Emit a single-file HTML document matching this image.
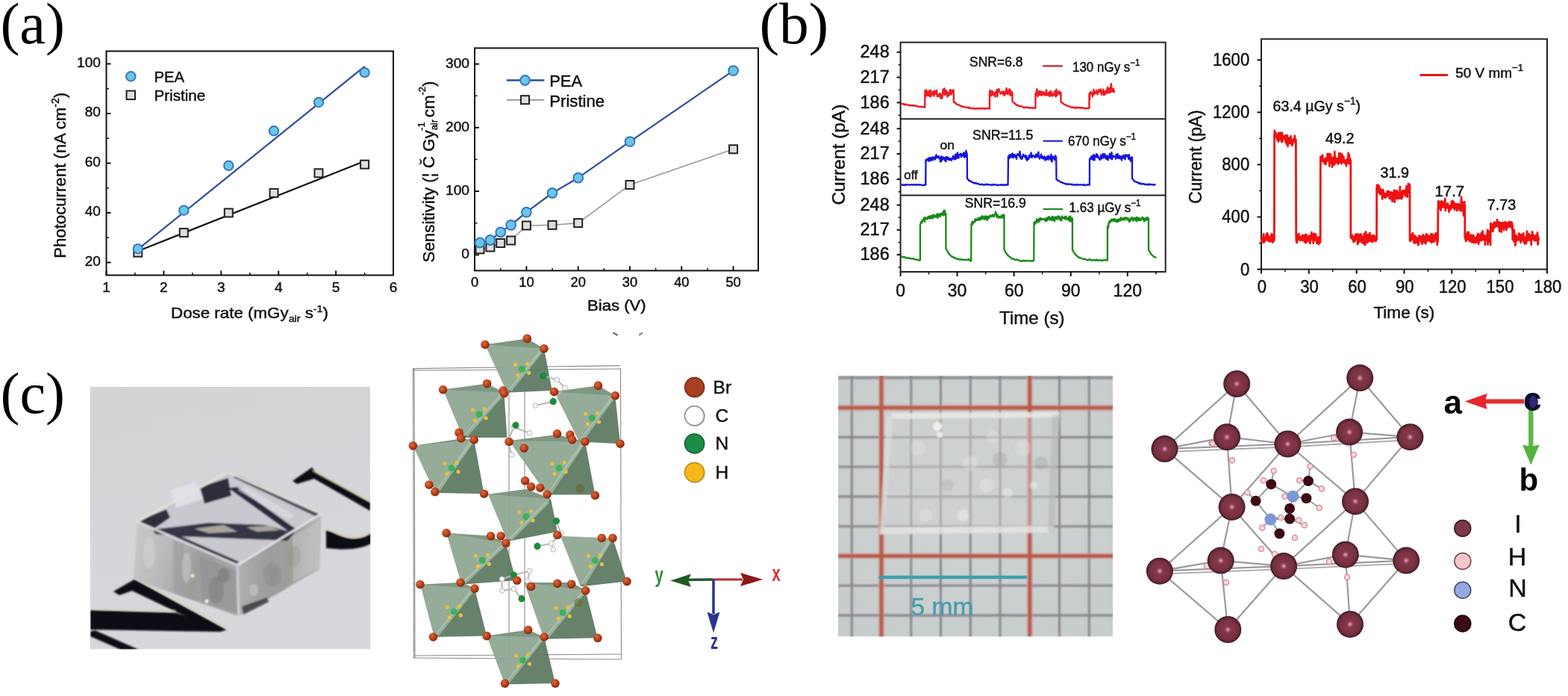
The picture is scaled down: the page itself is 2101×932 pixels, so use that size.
<!DOCTYPE html>
<html><head><meta charset="utf-8"><title>Figure</title>
<style>html,body{margin:0;padding:0;background:#fff;} body{width:2101px;height:932px;overflow:hidden;} svg{display:block;}</style>
</head><body>
<svg width="2101" height="932" viewBox="0 0 2101 932">
<rect width="2101" height="932" fill="#fff"/>
<text x="0.4" y="57.9" font-size="78" font-family="'Liberation Serif', 'Times New Roman', serif" font-weight="normal" fill="#000" text-anchor="start">(a)</text>
<text transform="translate(1017.6,57.9) scale(1.02,1)" font-size="78" font-family="'Liberation Serif', 'Times New Roman', serif" fill="#000">(b)</text>
<text x="0.5" y="553.3" font-size="78" font-family="'Liberation Serif', 'Times New Roman', serif" font-weight="normal" fill="#000" text-anchor="start">(c)</text>
<rect x="142.5" y="68.5" width="384.5" height="300.0" fill="none" stroke="#111" stroke-width="2"/>
<line x1="142.5" y1="351.5" x2="148.5" y2="351.5" stroke="#111" stroke-width="2"/>
<text x="134.8" y="355.8" font-size="19" font-family="'Liberation Sans', Arial, sans-serif" font-weight="normal" fill="#111" text-anchor="end" stroke="#111" stroke-width="0.45">20</text>
<line x1="142.5" y1="285.0" x2="148.5" y2="285.0" stroke="#111" stroke-width="2"/>
<text x="134.8" y="289.3" font-size="19" font-family="'Liberation Sans', Arial, sans-serif" font-weight="normal" fill="#111" text-anchor="end" stroke="#111" stroke-width="0.45">40</text>
<line x1="142.5" y1="218.5" x2="148.5" y2="218.5" stroke="#111" stroke-width="2"/>
<text x="134.8" y="222.8" font-size="19" font-family="'Liberation Sans', Arial, sans-serif" font-weight="normal" fill="#111" text-anchor="end" stroke="#111" stroke-width="0.45">60</text>
<line x1="142.5" y1="152.0" x2="148.5" y2="152.0" stroke="#111" stroke-width="2"/>
<text x="134.8" y="156.3" font-size="19" font-family="'Liberation Sans', Arial, sans-serif" font-weight="normal" fill="#111" text-anchor="end" stroke="#111" stroke-width="0.45">80</text>
<line x1="142.5" y1="85.5" x2="148.5" y2="85.5" stroke="#111" stroke-width="2"/>
<text x="134.8" y="89.8" font-size="19" font-family="'Liberation Sans', Arial, sans-serif" font-weight="normal" fill="#111" text-anchor="end" stroke="#111" stroke-width="0.45">100</text>
<line x1="142.5" y1="318.2" x2="146.0" y2="318.2" stroke="#111" stroke-width="1.5"/>
<line x1="142.5" y1="251.8" x2="146.0" y2="251.8" stroke="#111" stroke-width="1.5"/>
<line x1="142.5" y1="185.2" x2="146.0" y2="185.2" stroke="#111" stroke-width="1.5"/>
<line x1="142.5" y1="118.8" x2="146.0" y2="118.8" stroke="#111" stroke-width="1.5"/>
<line x1="142.5" y1="368.5" x2="142.5" y2="362.5" stroke="#111" stroke-width="2"/>
<text x="142.5" y="390.5" font-size="19" font-family="'Liberation Sans', Arial, sans-serif" font-weight="normal" fill="#111" text-anchor="middle" stroke="#111" stroke-width="0.45">1</text>
<line x1="219.4" y1="368.5" x2="219.4" y2="362.5" stroke="#111" stroke-width="2"/>
<text x="219.4" y="390.5" font-size="19" font-family="'Liberation Sans', Arial, sans-serif" font-weight="normal" fill="#111" text-anchor="middle" stroke="#111" stroke-width="0.45">2</text>
<line x1="296.3" y1="368.5" x2="296.3" y2="362.5" stroke="#111" stroke-width="2"/>
<text x="296.3" y="390.5" font-size="19" font-family="'Liberation Sans', Arial, sans-serif" font-weight="normal" fill="#111" text-anchor="middle" stroke="#111" stroke-width="0.45">3</text>
<line x1="373.2" y1="368.5" x2="373.2" y2="362.5" stroke="#111" stroke-width="2"/>
<text x="373.2" y="390.5" font-size="19" font-family="'Liberation Sans', Arial, sans-serif" font-weight="normal" fill="#111" text-anchor="middle" stroke="#111" stroke-width="0.45">4</text>
<line x1="450.1" y1="368.5" x2="450.1" y2="362.5" stroke="#111" stroke-width="2"/>
<text x="450.1" y="390.5" font-size="19" font-family="'Liberation Sans', Arial, sans-serif" font-weight="normal" fill="#111" text-anchor="middle" stroke="#111" stroke-width="0.45">5</text>
<line x1="527.0" y1="368.5" x2="527.0" y2="362.5" stroke="#111" stroke-width="2"/>
<text x="527.0" y="390.5" font-size="19" font-family="'Liberation Sans', Arial, sans-serif" font-weight="normal" fill="#111" text-anchor="middle" stroke="#111" stroke-width="0.45">6</text>
<line x1="180.9" y1="368.5" x2="180.9" y2="365.0" stroke="#111" stroke-width="1.5"/>
<line x1="257.9" y1="368.5" x2="257.9" y2="365.0" stroke="#111" stroke-width="1.5"/>
<line x1="334.8" y1="368.5" x2="334.8" y2="365.0" stroke="#111" stroke-width="1.5"/>
<line x1="411.7" y1="368.5" x2="411.7" y2="365.0" stroke="#111" stroke-width="1.5"/>
<line x1="488.6" y1="368.5" x2="488.6" y2="365.0" stroke="#111" stroke-width="1.5"/>
<line x1="184.8" y1="333.9" x2="488.6" y2="88.8" stroke="#2f4d9c" stroke-width="2.2"/>
<line x1="184.8" y1="336.2" x2="488.6" y2="215.8" stroke="#111" stroke-width="2.2"/>
<rect x="179.3" y="332.7" width="11" height="11" fill="#dedede" stroke="#222" stroke-width="2"/>
<rect x="240.8" y="306.1" width="11" height="11" fill="#dedede" stroke="#222" stroke-width="2"/>
<rect x="300.8" y="279.5" width="11" height="11" fill="#dedede" stroke="#222" stroke-width="2"/>
<rect x="361.5" y="252.9" width="11" height="11" fill="#dedede" stroke="#222" stroke-width="2"/>
<rect x="421.5" y="226.3" width="11" height="11" fill="#dedede" stroke="#222" stroke-width="2"/>
<rect x="483.1" y="214.7" width="11" height="11" fill="#dedede" stroke="#222" stroke-width="2"/>
<circle cx="184.8" cy="333.2" r="6.2" fill="#68c6ee" stroke="#3a78b5" stroke-width="2"/>
<circle cx="246.3" cy="281.7" r="6.2" fill="#68c6ee" stroke="#3a78b5" stroke-width="2"/>
<circle cx="306.3" cy="221.8" r="6.2" fill="#68c6ee" stroke="#3a78b5" stroke-width="2"/>
<circle cx="367.0" cy="175.3" r="6.2" fill="#68c6ee" stroke="#3a78b5" stroke-width="2"/>
<circle cx="427.0" cy="137.0" r="6.2" fill="#68c6ee" stroke="#3a78b5" stroke-width="2"/>
<circle cx="488.6" cy="97.1" r="6.2" fill="#68c6ee" stroke="#3a78b5" stroke-width="2"/>
<circle cx="175.3" cy="102.3" r="6.3" fill="#68c6ee" stroke="#3a78b5" stroke-width="2"/>
<rect x="169.5" y="121.6" width="11.5" height="11.5" fill="#dedede" stroke="#222" stroke-width="2"/>
<text x="206.5" y="109.8" font-size="20.3" font-family="'Liberation Sans', Arial, sans-serif" font-weight="normal" fill="#111" text-anchor="start" textLength="40.6" lengthAdjust="spacingAndGlyphs" stroke="#111" stroke-width="0.45">PEA</text>
<text x="206.5" y="135.2" font-size="20.5" font-family="'Liberation Sans', Arial, sans-serif" font-weight="normal" fill="#111" text-anchor="start" textLength="68.6" lengthAdjust="spacingAndGlyphs" stroke="#111" stroke-width="0.45">Pristine</text>
<text x="229" y="426" font-size="20.4" font-family="'Liberation Sans', Arial, sans-serif" fill="#111" textLength="211" lengthAdjust="spacingAndGlyphs" stroke="#111" stroke-width="0.45">Dose rate (mGy<tspan font-size="13" dy="5">air</tspan><tspan dy="-5"> s</tspan><tspan font-size="13" dy="-8">-1</tspan><tspan dy="8">)</tspan></text>
<text transform="translate(88,345.8) rotate(-90)" font-size="22" font-family="'Liberation Sans', Arial, sans-serif" fill="#111" textLength="222" lengthAdjust="spacingAndGlyphs" stroke="#111" stroke-width="0.45">Photocurrent (nA cm<tspan font-size="14" dy="-9">-2</tspan><tspan dy="9">)</tspan></text>
<rect x="636" y="64.4" width="380" height="298.0" fill="none" stroke="#111" stroke-width="2"/>
<line x1="636.0" y1="341.3" x2="642.0" y2="341.3" stroke="#111" stroke-width="2"/>
<text x="629.0" y="346.3" font-size="19.2" font-family="'Liberation Sans', Arial, sans-serif" font-weight="normal" fill="#111" text-anchor="end" stroke="#111" stroke-width="0.45">0</text>
<line x1="636.0" y1="256.1" x2="642.0" y2="256.1" stroke="#111" stroke-width="2"/>
<text x="629.0" y="261.1" font-size="19.2" font-family="'Liberation Sans', Arial, sans-serif" font-weight="normal" fill="#111" text-anchor="end" stroke="#111" stroke-width="0.45">100</text>
<line x1="636.0" y1="170.9" x2="642.0" y2="170.9" stroke="#111" stroke-width="2"/>
<text x="629.0" y="175.9" font-size="19.2" font-family="'Liberation Sans', Arial, sans-serif" font-weight="normal" fill="#111" text-anchor="end" stroke="#111" stroke-width="0.45">200</text>
<line x1="636.0" y1="85.7" x2="642.0" y2="85.7" stroke="#111" stroke-width="2"/>
<text x="629.0" y="90.7" font-size="19.2" font-family="'Liberation Sans', Arial, sans-serif" font-weight="normal" fill="#111" text-anchor="end" stroke="#111" stroke-width="0.45">300</text>
<line x1="636.0" y1="298.7" x2="639.5" y2="298.7" stroke="#111" stroke-width="1.5"/>
<line x1="636.0" y1="213.5" x2="639.5" y2="213.5" stroke="#111" stroke-width="1.5"/>
<line x1="636.0" y1="128.3" x2="639.5" y2="128.3" stroke="#111" stroke-width="1.5"/>
<line x1="636.1" y1="362.4" x2="636.1" y2="356.4" stroke="#111" stroke-width="2"/>
<text x="636.1" y="383.5" font-size="18.3" font-family="'Liberation Sans', Arial, sans-serif" font-weight="normal" fill="#111" text-anchor="middle" stroke="#111" stroke-width="0.45">0</text>
<line x1="705.4" y1="362.4" x2="705.4" y2="356.4" stroke="#111" stroke-width="2"/>
<text x="705.4" y="383.5" font-size="18.3" font-family="'Liberation Sans', Arial, sans-serif" font-weight="normal" fill="#111" text-anchor="middle" stroke="#111" stroke-width="0.45">10</text>
<line x1="774.7" y1="362.4" x2="774.7" y2="356.4" stroke="#111" stroke-width="2"/>
<text x="774.7" y="383.5" font-size="18.3" font-family="'Liberation Sans', Arial, sans-serif" font-weight="normal" fill="#111" text-anchor="middle" stroke="#111" stroke-width="0.45">20</text>
<line x1="844.0" y1="362.4" x2="844.0" y2="356.4" stroke="#111" stroke-width="2"/>
<text x="844.0" y="383.5" font-size="18.3" font-family="'Liberation Sans', Arial, sans-serif" font-weight="normal" fill="#111" text-anchor="middle" stroke="#111" stroke-width="0.45">30</text>
<line x1="913.3" y1="362.4" x2="913.3" y2="356.4" stroke="#111" stroke-width="2"/>
<text x="913.3" y="383.5" font-size="18.3" font-family="'Liberation Sans', Arial, sans-serif" font-weight="normal" fill="#111" text-anchor="middle" stroke="#111" stroke-width="0.45">40</text>
<line x1="982.6" y1="362.4" x2="982.6" y2="356.4" stroke="#111" stroke-width="2"/>
<text x="982.6" y="383.5" font-size="18.3" font-family="'Liberation Sans', Arial, sans-serif" font-weight="normal" fill="#111" text-anchor="middle" stroke="#111" stroke-width="0.45">50</text>
<line x1="670.8" y1="362.4" x2="670.8" y2="358.9" stroke="#111" stroke-width="1.5"/>
<line x1="740.0" y1="362.4" x2="740.0" y2="358.9" stroke="#111" stroke-width="1.5"/>
<line x1="809.4" y1="362.4" x2="809.4" y2="358.9" stroke="#111" stroke-width="1.5"/>
<line x1="878.6" y1="362.4" x2="878.6" y2="358.9" stroke="#111" stroke-width="1.5"/>
<line x1="948.0" y1="362.4" x2="948.0" y2="358.9" stroke="#111" stroke-width="1.5"/>
<polyline points="643.0,333.8 656.9,331.0 670.8,325.5 684.6,322.0 705.4,302.0 740.0,301.4 774.7,298.6 844.0,247.5 982.6,199.8" fill="none" stroke="#9a9a9a" stroke-width="1.6" stroke-linejoin="round"/>
<polyline points="643.0,325.0 656.9,321.5 670.8,310.9 684.6,301.4 705.4,284.2 740.0,258.5 774.7,238.2 844.0,189.6 982.6,94.6" fill="none" stroke="#2f4d9c" stroke-width="2.2" stroke-linejoin="round"/>
<rect x="637.5" y="328.3" width="11" height="11" fill="#dedede" stroke="#222" stroke-width="2"/>
<rect x="651.4" y="325.5" width="11" height="11" fill="#dedede" stroke="#222" stroke-width="2"/>
<rect x="665.2" y="320.0" width="11" height="11" fill="#dedede" stroke="#222" stroke-width="2"/>
<rect x="679.1" y="316.5" width="11" height="11" fill="#dedede" stroke="#222" stroke-width="2"/>
<rect x="699.9" y="296.5" width="11" height="11" fill="#dedede" stroke="#222" stroke-width="2"/>
<rect x="734.5" y="295.9" width="11" height="11" fill="#dedede" stroke="#222" stroke-width="2"/>
<rect x="769.2" y="293.1" width="11" height="11" fill="#dedede" stroke="#222" stroke-width="2"/>
<rect x="838.5" y="242.0" width="11" height="11" fill="#dedede" stroke="#222" stroke-width="2"/>
<rect x="977.1" y="194.3" width="11" height="11" fill="#dedede" stroke="#222" stroke-width="2"/>
<circle cx="643.0" cy="325.0" r="6.4" fill="#68c6ee" stroke="#3a78b5" stroke-width="2"/>
<circle cx="656.9" cy="321.5" r="6.4" fill="#68c6ee" stroke="#3a78b5" stroke-width="2"/>
<circle cx="670.8" cy="310.9" r="6.4" fill="#68c6ee" stroke="#3a78b5" stroke-width="2"/>
<circle cx="684.6" cy="301.4" r="6.4" fill="#68c6ee" stroke="#3a78b5" stroke-width="2"/>
<circle cx="705.4" cy="284.2" r="6.4" fill="#68c6ee" stroke="#3a78b5" stroke-width="2"/>
<circle cx="740.0" cy="258.5" r="6.4" fill="#68c6ee" stroke="#3a78b5" stroke-width="2"/>
<circle cx="774.7" cy="238.2" r="6.4" fill="#68c6ee" stroke="#3a78b5" stroke-width="2"/>
<circle cx="844.0" cy="189.6" r="6.4" fill="#68c6ee" stroke="#3a78b5" stroke-width="2"/>
<circle cx="982.6" cy="94.6" r="6.4" fill="#68c6ee" stroke="#3a78b5" stroke-width="2"/>
<line x1="678.8" y1="107.5" x2="729.4" y2="107.5" stroke="#2f4d9c" stroke-width="2.4"/>
<circle cx="703.5" cy="107.5" r="6.4" fill="#68c6ee" stroke="#3a78b5" stroke-width="2"/>
<line x1="678.8" y1="133.8" x2="729.4" y2="133.8" stroke="#9a9a9a" stroke-width="2"/>
<rect x="698" y="128.2" width="11" height="11" fill="#dedede" stroke="#222" stroke-width="2"/>
<text x="736.2" y="115.5" font-size="22" font-family="'Liberation Sans', Arial, sans-serif" font-weight="normal" fill="#111" text-anchor="start" textLength="44.0" lengthAdjust="spacingAndGlyphs" stroke="#111" stroke-width="0.45">PEA</text>
<text x="736.2" y="142.6" font-size="21.8" font-family="'Liberation Sans', Arial, sans-serif" font-weight="normal" fill="#111" text-anchor="start" textLength="74.0" lengthAdjust="spacingAndGlyphs" stroke="#111" stroke-width="0.45">Pristine</text>
<text x="787" y="416.3" font-size="19.5" font-family="'Liberation Sans', Arial, sans-serif" fill="#111" textLength="78.6" lengthAdjust="spacingAndGlyphs" stroke="#111" stroke-width="0.45">Bias (V)</text>
<text transform="translate(581.8,351.5) rotate(-90)" font-size="22.5" font-family="'Liberation Sans', Arial, sans-serif" fill="#111" textLength="243" lengthAdjust="spacingAndGlyphs" stroke="#111" stroke-width="0.45">Sensitivity (¦ Č Gy<tspan font-size="13" dy="4">air</tspan><tspan font-size="13" dx="-15" dy="-17">-1</tspan><tspan dy="13"> cm</tspan><tspan font-size="13" dy="-12">-2</tspan><tspan dy="12">)</tspan></text>
<rect x="1206.6" y="56.7" width="355.10000000000014" height="307.3" fill="none" stroke="#222" stroke-width="2"/>
<line x1="1206.6" y1="159.2" x2="1561.7" y2="159.2" stroke="#222" stroke-width="2"/>
<line x1="1206.6" y1="261.5" x2="1561.7" y2="261.5" stroke="#222" stroke-width="2"/>
<line x1="1201.6" y1="69.8" x2="1206.6" y2="69.8" stroke="#111" stroke-width="2"/>
<text x="1191.8" y="77.0" font-size="23.6" font-family="'Liberation Sans', Arial, sans-serif" font-weight="normal" fill="#111" text-anchor="end" textLength="39.3" lengthAdjust="spacingAndGlyphs" stroke="#111" stroke-width="0.45">248</text>
<line x1="1201.6" y1="103.6" x2="1206.6" y2="103.6" stroke="#111" stroke-width="2"/>
<text x="1191.8" y="110.8" font-size="23.6" font-family="'Liberation Sans', Arial, sans-serif" font-weight="normal" fill="#111" text-anchor="end" textLength="39.3" lengthAdjust="spacingAndGlyphs" stroke="#111" stroke-width="0.45">217</text>
<line x1="1201.6" y1="137.4" x2="1206.6" y2="137.4" stroke="#111" stroke-width="2"/>
<text x="1191.8" y="144.6" font-size="23.6" font-family="'Liberation Sans', Arial, sans-serif" font-weight="normal" fill="#111" text-anchor="end" textLength="39.3" lengthAdjust="spacingAndGlyphs" stroke="#111" stroke-width="0.45">186</text>
<line x1="1203.6" y1="86.7" x2="1206.6" y2="86.7" stroke="#111" stroke-width="1.5"/>
<line x1="1203.6" y1="120.5" x2="1206.6" y2="120.5" stroke="#111" stroke-width="1.5"/>
<line x1="1203.6" y1="154.3" x2="1206.6" y2="154.3" stroke="#111" stroke-width="1.5"/>
<line x1="1201.6" y1="172.3" x2="1206.6" y2="172.3" stroke="#111" stroke-width="2"/>
<text x="1191.8" y="179.5" font-size="23.6" font-family="'Liberation Sans', Arial, sans-serif" font-weight="normal" fill="#111" text-anchor="end" textLength="39.3" lengthAdjust="spacingAndGlyphs" stroke="#111" stroke-width="0.45">248</text>
<line x1="1201.6" y1="206.1" x2="1206.6" y2="206.1" stroke="#111" stroke-width="2"/>
<text x="1191.8" y="213.3" font-size="23.6" font-family="'Liberation Sans', Arial, sans-serif" font-weight="normal" fill="#111" text-anchor="end" textLength="39.3" lengthAdjust="spacingAndGlyphs" stroke="#111" stroke-width="0.45">217</text>
<line x1="1201.6" y1="239.9" x2="1206.6" y2="239.9" stroke="#111" stroke-width="2"/>
<text x="1191.8" y="247.1" font-size="23.6" font-family="'Liberation Sans', Arial, sans-serif" font-weight="normal" fill="#111" text-anchor="end" textLength="39.3" lengthAdjust="spacingAndGlyphs" stroke="#111" stroke-width="0.45">186</text>
<line x1="1203.6" y1="189.2" x2="1206.6" y2="189.2" stroke="#111" stroke-width="1.5"/>
<line x1="1203.6" y1="223.0" x2="1206.6" y2="223.0" stroke="#111" stroke-width="1.5"/>
<line x1="1203.6" y1="256.8" x2="1206.6" y2="256.8" stroke="#111" stroke-width="1.5"/>
<line x1="1201.6" y1="274.6" x2="1206.6" y2="274.6" stroke="#111" stroke-width="2"/>
<text x="1191.8" y="281.8" font-size="23.6" font-family="'Liberation Sans', Arial, sans-serif" font-weight="normal" fill="#111" text-anchor="end" textLength="39.3" lengthAdjust="spacingAndGlyphs" stroke="#111" stroke-width="0.45">248</text>
<line x1="1201.6" y1="307.9" x2="1206.6" y2="307.9" stroke="#111" stroke-width="2"/>
<text x="1191.8" y="315.1" font-size="23.6" font-family="'Liberation Sans', Arial, sans-serif" font-weight="normal" fill="#111" text-anchor="end" textLength="39.3" lengthAdjust="spacingAndGlyphs" stroke="#111" stroke-width="0.45">217</text>
<line x1="1201.6" y1="341.1" x2="1206.6" y2="341.1" stroke="#111" stroke-width="2"/>
<text x="1191.8" y="348.3" font-size="23.6" font-family="'Liberation Sans', Arial, sans-serif" font-weight="normal" fill="#111" text-anchor="end" textLength="39.3" lengthAdjust="spacingAndGlyphs" stroke="#111" stroke-width="0.45">186</text>
<line x1="1203.6" y1="291.2" x2="1206.6" y2="291.2" stroke="#111" stroke-width="1.5"/>
<line x1="1203.6" y1="324.5" x2="1206.6" y2="324.5" stroke="#111" stroke-width="1.5"/>
<line x1="1203.6" y1="357.8" x2="1206.6" y2="357.8" stroke="#111" stroke-width="1.5"/>
<line x1="1206.6" y1="364.0" x2="1206.6" y2="370.0" stroke="#111" stroke-width="2"/>
<line x1="1282.6" y1="364.0" x2="1282.6" y2="370.0" stroke="#111" stroke-width="2"/>
<line x1="1358.7" y1="364.0" x2="1358.7" y2="370.0" stroke="#111" stroke-width="2"/>
<line x1="1434.8" y1="364.0" x2="1434.8" y2="370.0" stroke="#111" stroke-width="2"/>
<line x1="1510.8" y1="364.0" x2="1510.8" y2="370.0" stroke="#111" stroke-width="2"/>
<line x1="1244.6" y1="364.0" x2="1244.6" y2="367.5" stroke="#111" stroke-width="1.5"/>
<line x1="1320.7" y1="364.0" x2="1320.7" y2="367.5" stroke="#111" stroke-width="1.5"/>
<line x1="1396.7" y1="364.0" x2="1396.7" y2="367.5" stroke="#111" stroke-width="1.5"/>
<line x1="1472.8" y1="364.0" x2="1472.8" y2="367.5" stroke="#111" stroke-width="1.5"/>
<line x1="1548.8" y1="364.0" x2="1548.8" y2="367.5" stroke="#111" stroke-width="1.5"/>
<text x="1206.6" y="396.9" font-size="23" font-family="'Liberation Sans', Arial, sans-serif" font-weight="normal" fill="#111" text-anchor="middle" stroke="#111" stroke-width="0.45">0</text>
<text x="1282.6" y="396.9" font-size="23" font-family="'Liberation Sans', Arial, sans-serif" font-weight="normal" fill="#111" text-anchor="middle" stroke="#111" stroke-width="0.45">30</text>
<text x="1358.7" y="396.9" font-size="23" font-family="'Liberation Sans', Arial, sans-serif" font-weight="normal" fill="#111" text-anchor="middle" stroke="#111" stroke-width="0.45">60</text>
<text x="1434.8" y="396.9" font-size="23" font-family="'Liberation Sans', Arial, sans-serif" font-weight="normal" fill="#111" text-anchor="middle" stroke="#111" stroke-width="0.45">90</text>
<text x="1510.8" y="396.9" font-size="23" font-family="'Liberation Sans', Arial, sans-serif" font-weight="normal" fill="#111" text-anchor="middle" stroke="#111" stroke-width="0.45">120</text>
<polyline points="1207.5,139.3 1208.0,138.8 1208.5,138.9 1209.0,139.2 1209.5,139.2 1210.0,139.1 1210.5,139.0 1211.0,139.2 1211.5,139.8 1212.0,140.5 1212.5,140.3 1213.0,139.8 1213.5,139.8 1214.0,139.7 1214.5,139.7 1215.0,140.0 1215.5,140.3 1216.0,140.5 1216.5,140.6 1217.0,140.6 1217.5,140.7 1218.0,141.1 1218.5,141.0 1219.0,140.7 1219.5,140.8 1220.0,141.3 1220.5,141.5 1221.0,141.2 1221.5,141.2 1222.0,141.4 1222.5,141.2 1223.0,141.3 1223.5,141.7 1224.0,141.8 1224.5,141.8 1225.0,141.5 1225.5,141.3 1226.0,141.6 1226.5,141.6 1227.0,141.5 1227.5,142.0 1228.0,142.3 1228.5,142.1 1229.0,142.0 1229.5,142.2 1230.0,142.6 1230.5,143.0 1231.0,143.0 1231.5,143.0 1232.0,143.0 1232.5,142.8 1233.0,142.7 1233.5,143.1 1234.0,143.2 1234.5,143.0 1235.0,143.0 1235.5,142.9 1236.0,142.8 1236.5,143.3 1237.0,143.5 1237.5,143.2 1238.0,143.3 1238.5,143.6 1239.0,143.6 1239.2,143.8 1239.5,121.3 1240.0,124.3 1240.5,128.0 1241.0,128.6 1241.5,120.8 1242.0,124.0 1242.5,125.6 1243.0,123.4 1243.5,128.0 1244.0,124.6 1244.5,124.7 1245.0,121.4 1245.5,127.1 1246.0,129.3 1246.5,124.1 1247.0,120.9 1247.5,129.0 1248.0,126.6 1248.5,126.3 1249.0,126.9 1249.5,124.8 1250.0,122.6 1250.5,122.4 1251.0,123.1 1251.5,128.7 1252.0,121.7 1252.5,123.9 1253.0,124.4 1253.5,125.4 1254.0,125.9 1254.5,121.4 1255.0,121.0 1255.5,125.5 1256.0,129.4 1256.5,128.4 1257.0,127.6 1257.5,126.8 1258.0,128.5 1258.5,126.6 1259.0,128.9 1259.5,124.8 1260.0,126.8 1260.5,131.5 1261.0,128.0 1261.5,127.1 1262.0,132.0 1262.5,128.9 1263.0,128.8 1263.5,119.8 1264.0,123.9 1264.5,123.0 1265.0,125.8 1265.5,118.5 1266.0,126.9 1266.5,126.8 1267.0,120.9 1267.5,121.7 1268.0,121.8 1268.5,123.9 1269.0,125.9 1269.5,129.7 1270.0,123.7 1270.5,125.7 1271.0,124.1 1271.5,127.9 1272.0,125.4 1272.5,125.8 1273.0,120.2 1273.5,122.5 1274.0,120.7 1274.5,126.4 1275.0,124.8 1275.5,121.8 1276.0,121.2 1276.5,123.6 1277.0,120.6 1277.5,120.5 1277.7,123.6 1278.0,136.4 1278.5,137.2 1279.0,137.2 1279.5,137.2 1280.0,137.4 1280.5,137.9 1281.0,138.8 1281.5,139.3 1282.0,139.5 1282.5,139.8 1283.0,140.1 1283.5,140.1 1284.0,140.1 1284.5,140.5 1285.0,140.9 1285.5,140.9 1286.0,141.1 1286.5,141.3 1287.0,141.7 1287.5,142.0 1288.0,142.1 1288.5,142.2 1289.0,142.6 1289.5,143.0 1290.0,142.9 1290.5,142.5 1291.0,142.7 1291.5,142.9 1292.0,143.1 1292.5,143.5 1293.0,143.7 1293.5,143.7 1294.0,143.7 1294.5,143.8 1295.0,143.6 1295.5,143.6 1296.0,143.7 1296.5,143.9 1297.0,144.3 1297.5,144.6 1298.0,144.5 1298.5,144.1 1299.0,143.8 1299.5,144.0 1300.0,145.1 1300.5,145.0 1301.0,145.0 1301.5,145.3 1302.0,145.4 1302.5,145.3 1303.0,145.2 1303.5,145.0 1304.0,144.8 1304.5,144.7 1305.0,144.8 1305.5,145.2 1306.0,145.5 1306.5,145.5 1307.0,145.7 1307.5,145.8 1308.0,145.6 1308.5,145.4 1309.0,145.1 1309.5,145.0 1310.0,145.1 1310.5,145.1 1311.0,145.3 1311.5,145.6 1312.0,145.7 1312.5,145.4 1313.0,145.2 1313.5,145.3 1314.0,145.3 1314.5,145.3 1315.0,145.4 1315.5,145.4 1316.0,145.3 1316.5,145.2 1317.0,145.0 1317.5,144.9 1318.0,145.0 1318.5,145.3 1319.0,145.7 1319.5,145.7 1320.0,145.1 1320.5,145.2 1321.0,145.3 1321.5,145.3 1322.0,145.4 1322.5,145.2 1323.0,144.9 1323.5,145.2 1324.0,145.4 1324.5,145.3 1325.0,145.3 1325.5,145.6 1326.0,145.5 1326.0,125.5 1326.5,120.7 1327.0,121.8 1327.5,123.9 1328.0,122.5 1328.5,128.3 1329.0,124.7 1329.5,122.0 1330.0,122.7 1330.5,123.8 1331.0,127.2 1331.5,124.4 1332.0,125.1 1332.5,125.6 1333.0,124.2 1333.5,129.7 1334.0,123.0 1334.5,126.2 1335.0,124.5 1335.5,125.0 1336.0,119.9 1336.5,129.4 1337.0,121.0 1337.5,121.3 1338.0,119.4 1338.5,119.3 1339.0,122.3 1339.5,123.7 1340.0,123.7 1340.5,125.6 1341.0,124.5 1341.5,123.4 1342.0,124.7 1342.5,124.1 1343.0,122.6 1343.5,125.2 1344.0,126.3 1344.5,124.1 1345.0,122.7 1345.5,125.4 1346.0,128.1 1346.5,123.0 1347.0,123.2 1347.5,122.8 1348.0,125.4 1348.5,118.1 1349.0,123.1 1349.5,125.6 1350.0,120.9 1350.5,126.3 1351.0,123.2 1351.5,121.0 1352.0,123.4 1352.5,119.2 1353.0,121.6 1353.5,127.6 1354.0,120.9 1354.5,127.6 1355.0,123.0 1355.5,126.0 1356.0,123.3 1356.4,123.5 1356.5,135.3 1357.0,136.1 1357.5,136.8 1358.0,137.0 1358.5,137.5 1359.0,138.2 1359.5,138.4 1360.0,138.5 1360.5,139.2 1361.0,139.8 1361.5,140.2 1362.0,140.7 1362.5,141.1 1363.0,140.9 1363.5,140.7 1364.0,140.9 1364.5,141.5 1365.0,142.0 1365.5,142.2 1366.0,142.2 1366.5,142.3 1367.0,142.4 1367.5,142.4 1368.0,142.4 1368.5,142.3 1369.0,142.3 1369.5,142.6 1370.0,142.7 1370.5,143.0 1371.0,143.4 1371.5,143.9 1372.0,144.4 1372.5,144.1 1373.0,143.7 1373.5,143.9 1374.0,143.9 1374.5,143.9 1375.0,144.0 1375.5,143.5 1376.0,143.3 1376.5,143.8 1377.0,144.2 1377.5,144.4 1378.0,144.1 1378.5,144.1 1379.0,144.4 1379.5,144.3 1380.0,144.4 1380.5,144.8 1381.0,144.6 1381.5,144.4 1382.0,144.6 1382.5,144.6 1383.0,144.5 1383.5,144.6 1384.0,145.0 1384.5,145.1 1385.0,144.6 1385.5,144.4 1386.0,144.6 1386.5,144.6 1387.0,144.6 1387.5,144.8 1387.5,125.4 1388.0,127.4 1388.5,123.3 1389.0,124.8 1389.5,119.3 1390.0,123.2 1390.5,129.3 1391.0,124.3 1391.5,124.5 1392.0,123.0 1392.5,127.2 1393.0,121.6 1393.5,121.8 1394.0,126.9 1394.5,126.3 1395.0,126.7 1395.5,123.0 1396.0,128.1 1396.5,125.5 1397.0,124.1 1397.5,123.1 1398.0,123.5 1398.5,126.3 1399.0,126.8 1399.5,124.3 1400.0,126.3 1400.5,127.7 1401.0,126.7 1401.5,125.0 1402.0,120.4 1402.5,126.1 1403.0,127.6 1403.5,126.6 1404.0,127.2 1404.5,124.7 1405.0,124.7 1405.5,123.7 1406.0,128.9 1406.5,125.3 1407.0,124.3 1407.5,122.1 1408.0,125.0 1408.5,128.2 1409.0,125.7 1409.5,123.4 1410.0,128.3 1410.5,128.4 1411.0,126.8 1411.5,126.2 1412.0,127.1 1412.5,125.8 1413.0,126.3 1413.5,122.0 1414.0,128.6 1414.5,124.7 1415.0,129.2 1415.5,119.8 1416.0,126.8 1416.5,127.4 1417.0,123.1 1417.5,124.7 1418.0,125.4 1418.5,125.1 1419.0,122.2 1419.5,122.7 1420.0,125.8 1420.5,126.4 1421.0,123.9 1421.5,124.0 1421.5,136.1 1422.0,136.8 1422.5,137.2 1423.0,137.3 1423.5,137.5 1424.0,138.1 1424.5,138.5 1425.0,138.9 1425.5,139.5 1426.0,139.8 1426.5,140.0 1427.0,140.3 1427.5,140.4 1428.0,140.6 1428.5,140.7 1429.0,140.9 1429.5,141.5 1430.0,141.7 1430.5,141.7 1431.0,142.0 1431.5,142.4 1432.0,142.5 1432.5,142.7 1433.0,142.9 1433.5,142.7 1434.0,142.7 1434.5,143.0 1435.0,143.5 1435.5,143.8 1436.0,143.8 1436.5,143.6 1437.0,143.6 1437.5,143.8 1438.0,143.8 1438.5,144.0 1439.0,144.0 1439.5,143.8 1440.0,143.8 1440.5,144.2 1441.0,144.8 1441.5,144.9 1442.0,144.4 1442.5,143.9 1443.0,143.7 1443.5,144.0 1444.0,144.2 1444.5,144.1 1445.0,144.2 1445.5,144.0 1446.0,144.2 1446.5,144.3 1447.0,144.3 1447.5,144.7 1448.0,144.7 1448.5,144.1 1449.0,144.1 1449.5,144.5 1450.0,144.5 1450.5,144.2 1451.0,144.3 1451.5,144.5 1452.0,144.7 1452.5,144.9 1453.0,145.1 1453.5,145.3 1454.0,145.3 1454.5,145.1 1455.0,145.2 1455.5,145.2 1456.0,144.9 1456.5,144.6 1457.0,144.8 1457.5,145.0 1458.0,145.1 1458.5,145.0 1459.0,144.9 1459.5,144.8 1459.5,125.4 1460.0,133.4 1460.5,124.6 1461.0,123.3 1461.5,124.9 1462.0,123.6 1462.5,125.0 1463.0,124.3 1463.5,125.7 1464.0,129.4 1464.5,123.8 1465.0,125.4 1465.5,119.9 1466.0,126.5 1466.5,122.2 1467.0,123.2 1467.5,124.0 1468.0,124.9 1468.5,123.7 1469.0,122.8 1469.5,120.9 1470.0,123.9 1470.5,126.3 1471.0,123.1 1471.5,123.0 1472.0,123.5 1472.5,120.0 1473.0,121.1 1473.5,121.3 1474.0,122.8 1474.5,121.6 1475.0,119.5 1475.5,125.6 1476.0,126.8 1476.5,121.9 1477.0,123.7 1477.5,123.4 1478.0,124.8 1478.5,119.8 1479.0,127.4 1479.5,122.6 1480.0,126.8 1480.5,124.1 1481.0,122.4 1481.5,122.5 1482.0,125.3 1482.5,120.6 1483.0,121.1 1483.5,120.5 1484.0,117.0 1484.5,124.6 1485.0,122.7 1485.5,121.0 1486.0,123.6 1486.5,118.2 1487.0,120.3 1487.5,124.0 1488.0,121.7 1488.5,114.5 1489.0,112.2 1489.5,117.9 1490.0,122.9 1490.5,119.6 1491.0,120.2 1491.5,122.6 1492.0,118.9 1492.5,121.7 1493.0,123.1 1493.5,122.2" fill="none" stroke="#ec1c24" stroke-width="2.4" stroke-linejoin="round"/>
<polyline points="1207.5,247.2 1208.0,247.1 1208.5,247.4 1209.0,247.8 1209.5,248.0 1210.0,247.7 1210.5,247.4 1211.0,247.4 1211.5,247.9 1212.0,248.1 1212.5,247.7 1213.0,247.2 1213.5,247.4 1214.0,247.9 1214.5,247.6 1215.0,247.2 1215.5,247.2 1216.0,247.2 1216.5,247.2 1217.0,247.3 1217.5,247.4 1218.0,247.6 1218.5,247.6 1219.0,247.5 1219.5,247.7 1220.0,247.7 1220.5,247.3 1221.0,247.2 1221.5,247.3 1222.0,247.3 1222.5,247.3 1223.0,247.4 1223.5,247.6 1224.0,247.4 1224.5,247.3 1225.0,247.2 1225.5,247.1 1226.0,247.2 1226.5,247.3 1227.0,247.5 1227.5,247.8 1228.0,247.7 1228.5,247.2 1229.0,247.3 1229.5,247.4 1230.0,247.5 1230.5,247.4 1231.0,247.1 1231.5,247.3 1232.0,247.6 1232.5,247.7 1233.0,247.5 1233.5,247.5 1234.0,247.4 1234.5,247.3 1235.0,247.5 1235.5,247.9 1236.0,248.2 1236.5,248.4 1237.0,248.2 1237.5,248.0 1238.0,247.8 1238.5,247.5 1239.0,247.7 1239.5,247.9 1240.0,247.7 1240.3,247.6 1240.5,214.5 1241.0,213.9 1241.5,215.3 1242.0,213.2 1242.5,213.8 1243.0,214.0 1243.5,214.0 1244.0,212.0 1244.5,215.8 1245.0,211.4 1245.5,211.6 1246.0,211.3 1246.5,215.3 1247.0,212.4 1247.5,211.3 1248.0,211.2 1248.5,214.4 1249.0,211.2 1249.5,210.9 1250.0,214.3 1250.5,210.3 1251.0,211.8 1251.5,211.9 1252.0,210.7 1252.5,211.2 1253.0,213.6 1253.5,209.9 1254.0,208.6 1254.5,207.3 1255.0,210.8 1255.5,210.2 1256.0,211.4 1256.5,210.0 1257.0,209.6 1257.5,208.9 1258.0,210.3 1258.5,212.0 1259.0,211.3 1259.5,212.5 1260.0,216.7 1260.5,213.8 1261.0,209.3 1261.5,215.9 1262.0,213.0 1262.5,209.9 1263.0,213.7 1263.5,212.1 1264.0,211.1 1264.5,211.0 1265.0,210.8 1265.5,212.8 1266.0,215.1 1266.5,211.8 1267.0,213.4 1267.5,216.4 1268.0,210.0 1268.5,212.9 1269.0,212.0 1269.5,210.6 1270.0,210.8 1270.5,213.5 1271.0,214.1 1271.5,211.5 1272.0,212.8 1272.5,214.2 1273.0,213.1 1273.5,213.8 1274.0,212.8 1274.5,212.3 1275.0,215.0 1275.5,212.8 1276.0,212.0 1276.5,212.8 1277.0,209.0 1277.5,210.0 1278.0,211.7 1278.5,211.4 1279.0,213.3 1279.5,210.2 1280.0,206.7 1280.5,213.2 1281.0,211.5 1281.5,206.8 1282.0,211.9 1282.5,209.1 1283.0,204.5 1283.5,207.1 1284.0,207.8 1284.5,211.9 1285.0,206.9 1285.5,207.5 1286.0,207.5 1286.5,207.1 1287.0,205.8 1287.5,208.2 1288.0,210.4 1288.5,206.6 1289.0,206.8 1289.5,206.1 1290.0,208.5 1290.5,206.7 1291.0,206.4 1291.5,204.1 1292.0,210.9 1292.5,206.2 1293.0,205.5 1293.5,209.4 1294.0,209.9 1294.5,201.6 1295.0,205.2 1295.5,205.0 1295.8,207.9 1296.0,239.2 1296.5,239.6 1297.0,240.0 1297.5,240.7 1298.0,241.7 1298.5,242.1 1299.0,241.8 1299.5,242.1 1300.0,242.9 1300.5,242.8 1301.0,242.8 1301.5,243.3 1302.0,243.8 1302.5,244.2 1303.0,244.2 1303.5,244.2 1304.0,244.5 1304.5,245.0 1305.0,245.3 1305.5,245.1 1306.0,244.7 1306.5,245.1 1307.0,245.6 1307.5,245.4 1308.0,245.0 1308.5,245.4 1309.0,246.0 1309.5,246.2 1310.0,246.1 1310.5,246.3 1311.0,246.5 1311.5,246.3 1312.0,246.5 1312.5,247.1 1313.0,247.3 1313.5,247.1 1314.0,247.0 1314.5,247.1 1315.0,246.9 1315.5,246.7 1316.0,246.7 1316.5,246.8 1317.0,247.3 1317.5,247.7 1318.0,247.5 1318.5,247.5 1319.0,247.6 1319.5,247.4 1320.0,247.2 1320.5,246.8 1321.0,247.1 1321.5,247.2 1322.0,246.6 1322.5,246.8 1323.0,247.4 1323.5,247.3 1324.0,247.0 1324.5,247.1 1325.0,247.3 1325.5,247.6 1326.0,247.6 1326.5,247.3 1327.0,247.2 1327.5,247.5 1328.0,247.8 1328.5,247.8 1329.0,247.6 1329.5,247.4 1330.0,247.0 1330.5,247.2 1331.0,247.6 1331.5,247.5 1332.0,247.1 1332.5,247.0 1333.0,247.3 1333.5,247.4 1334.0,247.4 1334.5,247.4 1335.0,247.6 1335.5,247.8 1336.0,247.9 1336.5,248.1 1337.0,248.1 1337.5,247.9 1338.0,247.6 1338.5,247.6 1339.0,247.6 1339.5,247.6 1340.0,247.8 1340.5,247.8 1341.0,247.3 1341.5,247.2 1342.0,247.7 1342.5,247.8 1343.0,247.6 1343.5,247.5 1344.0,247.9 1344.5,248.0 1345.0,247.6 1345.5,247.5 1346.0,247.5 1346.5,247.5 1347.0,247.4 1347.5,247.4 1348.0,247.8 1348.5,247.7 1349.0,247.6 1349.5,247.3 1350.0,247.1 1350.5,247.4 1350.6,247.6 1351.0,209.3 1351.5,209.2 1352.0,209.9 1352.5,207.5 1353.0,211.8 1353.5,207.1 1354.0,207.1 1354.5,207.1 1355.0,209.5 1355.5,210.5 1356.0,207.5 1356.5,205.5 1357.0,210.8 1357.5,206.3 1358.0,211.1 1358.5,208.2 1359.0,207.2 1359.5,207.1 1360.0,209.4 1360.5,210.1 1361.0,208.4 1361.5,210.7 1362.0,212.9 1362.5,208.1 1363.0,206.4 1363.5,206.7 1364.0,206.4 1364.5,207.9 1365.0,207.4 1365.5,206.1 1366.0,209.7 1366.5,202.7 1367.0,205.6 1367.5,212.4 1368.0,211.2 1368.5,210.2 1369.0,209.9 1369.5,213.0 1370.0,210.5 1370.5,209.8 1371.0,206.9 1371.5,209.0 1372.0,207.8 1372.5,208.1 1373.0,208.4 1373.5,210.5 1374.0,210.3 1374.5,212.6 1375.0,208.3 1375.5,210.4 1376.0,214.9 1376.5,211.5 1377.0,213.7 1377.5,213.4 1378.0,213.3 1378.5,212.6 1379.0,208.0 1379.5,210.5 1380.0,210.2 1380.5,207.5 1381.0,209.4 1381.5,204.5 1382.0,207.3 1382.5,211.0 1383.0,210.4 1383.5,208.6 1384.0,208.0 1384.5,208.4 1385.0,208.8 1385.5,209.1 1386.0,210.0 1386.5,209.2 1387.0,210.9 1387.5,210.7 1388.0,206.4 1388.5,208.6 1389.0,207.5 1389.5,210.0 1390.0,208.6 1390.5,209.1 1391.0,204.3 1391.5,203.7 1392.0,210.6 1392.5,210.9 1393.0,212.6 1393.5,210.8 1394.0,209.7 1394.5,209.3 1395.0,206.6 1395.5,211.5 1396.0,208.4 1396.5,211.5 1397.0,211.3 1397.5,211.6 1398.0,212.8 1398.5,209.9 1399.0,210.7 1399.5,209.4 1400.0,210.1 1400.5,214.6 1401.0,210.6 1401.5,213.8 1402.0,213.0 1402.5,213.1 1403.0,213.0 1403.5,209.1 1404.0,211.3 1404.5,213.8 1405.0,208.8 1405.5,210.5 1406.0,209.6 1406.5,211.0 1407.0,212.4 1407.5,213.6 1408.0,209.4 1408.5,206.9 1409.0,216.0 1409.5,216.5 1410.0,211.4 1410.5,211.5 1411.0,209.6 1411.5,210.5 1412.0,212.1 1412.5,212.4 1413.0,214.2 1413.5,209.9 1414.0,208.4 1414.5,209.0 1415.0,212.0 1415.2,210.5 1415.5,240.2 1416.0,240.2 1416.5,240.6 1417.0,241.4 1417.5,241.9 1418.0,241.9 1418.5,241.9 1419.0,242.2 1419.5,242.7 1420.0,242.9 1420.5,243.2 1421.0,243.8 1421.5,244.2 1422.0,244.1 1422.5,244.1 1423.0,244.5 1423.5,244.8 1424.0,244.7 1424.5,245.0 1425.0,245.3 1425.5,245.4 1426.0,245.6 1426.5,245.8 1427.0,246.1 1427.5,246.2 1428.0,246.3 1428.5,246.7 1429.0,246.8 1429.5,246.5 1430.0,246.1 1430.5,246.2 1431.0,246.7 1431.5,246.9 1432.0,246.8 1432.5,246.7 1433.0,246.6 1433.5,246.5 1434.0,246.6 1434.5,246.7 1435.0,246.8 1435.5,246.7 1436.0,247.2 1436.5,247.4 1437.0,247.0 1437.5,247.0 1438.0,247.3 1438.5,247.4 1439.0,247.6 1439.5,247.5 1440.0,247.3 1440.5,247.6 1441.0,247.8 1441.5,247.7 1442.0,247.6 1442.5,247.3 1443.0,246.9 1443.5,247.1 1444.0,247.7 1444.5,247.8 1445.0,247.7 1445.5,247.6 1446.0,247.4 1446.5,247.3 1447.0,247.3 1447.5,247.4 1448.0,247.3 1448.5,247.4 1449.0,247.5 1449.5,247.5 1450.0,247.7 1450.5,247.7 1451.0,247.8 1451.5,247.7 1452.0,247.1 1452.5,247.0 1453.0,247.6 1453.5,248.1 1454.0,248.3 1454.5,248.1 1455.0,247.7 1455.5,247.5 1456.0,247.7 1456.5,247.7 1457.0,247.3 1457.5,247.2 1458.0,247.5 1458.5,247.3 1459.0,246.9 1459.5,247.2 1459.9,247.6 1460.0,213.2 1460.5,212.4 1461.0,213.0 1461.5,213.0 1462.0,209.8 1462.5,212.5 1463.0,210.2 1463.5,209.0 1464.0,211.5 1464.5,214.1 1465.0,207.8 1465.5,207.4 1466.0,207.4 1466.5,214.6 1467.0,209.9 1467.5,210.3 1468.0,208.6 1468.5,208.4 1469.0,206.2 1469.5,210.4 1470.0,210.7 1470.5,207.1 1471.0,209.2 1471.5,209.8 1472.0,211.0 1472.5,211.6 1473.0,213.5 1473.5,214.1 1474.0,213.5 1474.5,213.5 1475.0,207.6 1475.5,208.9 1476.0,212.6 1476.5,211.1 1477.0,210.7 1477.5,206.2 1478.0,206.0 1478.5,211.5 1479.0,210.4 1479.5,209.1 1480.0,208.9 1480.5,206.1 1481.0,210.4 1481.5,211.5 1482.0,212.9 1482.5,210.0 1483.0,209.7 1483.5,208.3 1484.0,213.0 1484.5,214.5 1485.0,209.7 1485.5,211.5 1486.0,210.8 1486.5,209.5 1487.0,205.9 1487.5,210.4 1488.0,212.1 1488.5,207.5 1489.0,209.0 1489.5,204.1 1490.0,213.5 1490.5,211.6 1491.0,210.1 1491.5,209.4 1492.0,208.5 1492.5,209.9 1493.0,209.5 1493.5,209.8 1494.0,210.1 1494.5,210.2 1495.0,212.8 1495.5,206.9 1496.0,210.9 1496.5,209.4 1497.0,208.3 1497.5,205.8 1498.0,211.9 1498.5,208.8 1499.0,209.4 1499.5,212.0 1500.0,208.5 1500.5,210.9 1501.0,210.5 1501.5,212.5 1502.0,212.9 1502.5,209.2 1503.0,214.7 1503.5,210.6 1504.0,210.4 1504.5,209.5 1505.0,211.6 1505.5,207.7 1506.0,210.2 1506.5,211.7 1507.0,208.4 1507.5,213.3 1508.0,207.4 1508.5,209.8 1509.0,208.4 1509.5,208.8 1510.0,207.5 1510.5,208.7 1511.0,209.9 1511.5,208.3 1512.0,211.9 1512.5,213.2 1513.0,207.1 1513.5,212.8 1514.0,211.4 1514.5,211.4 1515.0,215.9 1515.5,213.2 1516.0,211.2 1516.5,210.6 1517.0,210.5 1517.0,239.0 1517.5,239.8 1518.0,240.3 1518.5,240.8 1519.0,241.4 1519.5,242.1 1520.0,242.7 1520.5,243.0 1521.0,243.1 1521.5,243.1 1522.0,243.4 1522.5,243.6 1523.0,243.7 1523.5,244.2 1524.0,244.1 1524.5,244.2 1525.0,245.1 1525.5,245.4 1526.0,245.0 1526.5,245.3 1527.0,246.0 1527.5,245.6 1528.0,245.0 1528.5,245.5 1529.0,246.3 1529.5,246.4 1530.0,246.4 1530.5,246.6 1531.0,246.5 1531.5,246.1 1532.0,246.0 1532.5,246.2 1533.0,246.3 1533.5,246.6 1534.0,247.1 1534.5,247.0 1535.0,246.8 1535.5,246.9 1536.0,247.1 1536.5,247.0 1537.0,246.7 1537.5,247.1 1538.0,247.6 1538.5,247.4 1539.0,246.9 1539.5,246.6 1540.0,246.4 1540.5,246.9 1541.0,247.5 1541.5,247.3 1542.0,246.9 1542.5,247.0 1543.0,247.2 1543.5,247.2 1544.0,247.1 1544.5,247.2 1545.0,247.6 1545.5,247.8 1546.0,247.4 1546.5,247.3 1547.0,247.5 1547.5,247.1 1548.0,247.1 1548.5,247.3" fill="none" stroke="#1414dc" stroke-width="2.3" stroke-linejoin="round"/>
<polyline points="1207.5,343.4 1208.0,343.5 1208.5,343.5 1209.0,344.0 1209.5,344.3 1210.0,344.2 1210.5,344.3 1211.0,344.4 1211.5,344.2 1212.0,344.0 1212.5,344.2 1213.0,344.8 1213.5,345.3 1214.0,345.6 1214.5,345.6 1215.0,345.2 1215.5,345.2 1216.0,345.5 1216.5,345.6 1217.0,345.8 1217.5,345.7 1218.0,345.5 1218.5,345.7 1219.0,346.3 1219.5,346.2 1220.0,346.1 1220.5,346.2 1221.0,346.3 1221.5,346.3 1222.0,346.4 1222.5,346.5 1223.0,346.3 1223.5,346.1 1224.0,346.3 1224.5,346.6 1225.0,347.1 1225.5,347.3 1226.0,347.4 1226.5,347.4 1227.0,347.4 1227.5,347.7 1228.0,347.9 1228.5,347.8 1229.0,347.6 1229.5,347.6 1230.0,347.8 1230.5,348.2 1231.0,348.5 1231.5,348.2 1232.0,348.0 1232.5,348.5 1233.0,348.3 1233.0,301.7 1233.5,299.4 1234.0,297.3 1234.5,296.7 1235.0,296.9 1235.5,298.3 1236.0,294.5 1236.5,295.2 1237.0,294.0 1237.5,294.9 1238.0,294.5 1238.5,291.2 1239.0,297.0 1239.5,293.3 1240.0,291.9 1240.5,291.4 1241.0,292.2 1241.5,292.6 1242.0,293.4 1242.5,292.3 1243.0,293.0 1243.5,289.9 1244.0,290.8 1244.5,290.0 1245.0,292.1 1245.5,292.5 1246.0,289.3 1246.5,291.5 1247.0,292.2 1247.5,292.5 1248.0,288.7 1248.5,291.2 1249.0,290.6 1249.5,289.2 1250.0,292.7 1250.5,287.5 1251.0,288.4 1251.5,289.9 1252.0,289.3 1252.5,288.2 1253.0,290.8 1253.5,290.6 1254.0,289.4 1254.5,290.0 1255.0,288.2 1255.5,286.6 1256.0,291.7 1256.5,286.5 1257.0,291.3 1257.5,287.3 1258.0,287.9 1258.5,287.1 1259.0,288.7 1259.5,286.2 1260.0,290.1 1260.5,287.8 1261.0,287.2 1261.5,285.8 1262.0,286.4 1262.5,285.7 1263.0,288.4 1263.5,286.8 1264.0,282.8 1264.5,287.8 1265.0,281.8 1265.5,287.7 1266.0,282.0 1266.5,284.9 1267.0,286.5 1267.4,286.1 1267.5,332.9 1268.0,333.9 1268.5,335.0 1269.0,335.5 1269.5,336.4 1270.0,337.6 1270.5,338.3 1271.0,339.1 1271.5,339.9 1272.0,340.4 1272.5,340.9 1273.0,341.4 1273.5,342.0 1274.0,342.7 1274.5,343.1 1275.0,343.4 1275.5,343.6 1276.0,343.6 1276.5,343.7 1277.0,344.1 1277.5,344.9 1278.0,345.4 1278.5,345.1 1279.0,344.8 1279.5,345.2 1280.0,345.8 1280.5,346.1 1281.0,346.3 1281.5,346.6 1282.0,346.6 1282.5,346.3 1283.0,346.5 1283.5,346.6 1284.0,347.0 1284.5,347.5 1285.0,347.7 1285.5,347.5 1286.0,347.1 1286.5,347.2 1287.0,347.3 1287.5,347.2 1288.0,347.4 1288.5,347.8 1289.0,347.9 1289.5,347.7 1290.0,347.9 1290.5,348.2 1291.0,347.8 1291.5,347.4 1292.0,347.7 1292.5,347.9 1293.0,347.8 1293.5,347.7 1294.0,347.7 1294.5,348.2 1295.0,348.2 1295.5,348.0 1296.0,348.0 1296.5,348.0 1297.0,347.5 1297.5,347.0 1298.0,347.3 1298.5,348.1 1299.0,348.1 1299.5,348.0 1300.0,349.4 1300.5,349.5 1301.0,349.5 1301.2,349.5 1301.5,299.9 1302.0,301.4 1302.5,296.6 1303.0,300.5 1303.5,299.9 1304.0,298.4 1304.5,297.7 1305.0,296.8 1305.5,297.4 1306.0,297.2 1306.5,293.6 1307.0,296.7 1307.5,293.2 1308.0,294.7 1308.5,293.8 1309.0,294.9 1309.5,293.4 1310.0,294.4 1310.5,292.7 1311.0,291.7 1311.5,294.8 1312.0,293.9 1312.5,293.7 1313.0,294.0 1313.5,290.8 1314.0,294.2 1314.5,290.8 1315.0,292.7 1315.5,291.6 1316.0,289.2 1316.5,292.8 1317.0,291.5 1317.5,290.1 1318.0,293.2 1318.5,293.6 1319.0,293.1 1319.5,293.7 1320.0,289.3 1320.5,292.9 1321.0,292.5 1321.5,289.7 1322.0,292.6 1322.5,295.1 1323.0,289.8 1323.5,290.7 1324.0,291.9 1324.5,292.7 1325.0,292.4 1325.5,289.4 1326.0,288.9 1326.5,289.4 1327.0,289.9 1327.5,288.4 1328.0,288.7 1328.5,290.2 1329.0,289.6 1329.5,289.3 1330.0,287.5 1330.5,288.3 1331.0,289.5 1331.5,290.1 1332.0,290.2 1332.5,286.8 1333.0,287.6 1333.5,286.6 1334.0,283.7 1334.5,286.7 1335.0,285.9 1335.5,291.0 1336.0,288.9 1336.5,287.6 1337.0,288.7 1337.5,289.2 1338.0,291.7 1338.5,290.2 1339.0,291.6 1339.5,290.2 1340.0,291.6 1340.5,291.6 1341.0,290.6 1341.5,289.2 1342.0,290.9 1342.5,288.6 1343.0,291.7 1343.5,289.1 1344.0,287.5 1344.5,291.2 1345.0,287.5 1345.5,288.6 1345.5,334.1 1346.0,335.0 1346.5,335.9 1347.0,336.9 1347.5,337.9 1348.0,338.9 1348.5,339.4 1349.0,340.0 1349.5,341.1 1350.0,341.5 1350.5,341.5 1351.0,342.3 1351.5,343.1 1352.0,343.4 1352.5,343.7 1353.0,343.9 1353.5,343.9 1354.0,344.6 1354.5,345.6 1355.0,346.0 1355.5,346.0 1356.0,346.1 1356.5,346.5 1357.0,346.7 1357.5,346.8 1358.0,346.8 1358.5,347.1 1359.0,347.5 1359.5,347.5 1360.0,347.4 1360.5,347.7 1361.0,348.0 1361.5,347.8 1362.0,347.6 1362.5,347.8 1363.0,347.6 1363.5,347.5 1364.0,348.1 1364.5,348.5 1365.0,348.6 1365.5,348.7 1366.0,348.9 1366.5,349.1 1367.0,349.4 1367.5,349.7 1368.0,349.8 1368.5,349.6 1369.0,349.5 1369.5,349.5 1370.0,349.0 1370.5,348.9 1371.0,349.0 1371.5,348.9 1372.0,349.4 1372.5,349.6 1373.0,349.0 1373.5,349.0 1374.0,349.6 1374.5,349.5 1375.0,349.1 1375.5,349.2 1376.0,349.1 1376.5,348.8 1377.0,348.9 1377.5,349.2 1378.0,349.3 1378.5,349.4 1379.0,349.3 1379.5,349.3 1380.0,349.4 1380.5,349.6 1381.0,349.8 1381.5,349.7 1382.0,349.2 1382.5,349.0 1383.0,349.3 1383.5,349.8 1384.0,349.6 1384.5,349.2 1385.0,347.9 1385.3,348.5 1385.5,298.3 1386.0,299.0 1386.5,297.0 1387.0,298.0 1387.5,299.6 1388.0,296.5 1388.5,297.8 1389.0,293.4 1389.5,296.4 1390.0,296.2 1390.5,294.1 1391.0,297.7 1391.5,295.0 1392.0,293.3 1392.5,293.8 1393.0,296.0 1393.5,292.2 1394.0,294.1 1394.5,292.1 1395.0,294.0 1395.5,292.7 1396.0,293.1 1396.5,294.2 1397.0,293.2 1397.5,293.8 1398.0,293.7 1398.5,293.1 1399.0,292.9 1399.5,293.0 1400.0,294.5 1400.5,295.2 1401.0,296.3 1401.5,296.3 1402.0,291.8 1402.5,293.7 1403.0,293.9 1403.5,295.1 1404.0,294.8 1404.5,290.7 1405.0,293.5 1405.5,290.1 1406.0,291.8 1406.5,291.2 1407.0,291.7 1407.5,294.8 1408.0,291.6 1408.5,291.6 1409.0,292.5 1409.5,294.2 1410.0,289.8 1410.5,295.1 1411.0,291.1 1411.5,290.5 1412.0,292.0 1412.5,293.0 1413.0,296.3 1413.5,293.4 1414.0,290.7 1414.5,291.6 1415.0,290.5 1415.5,293.0 1416.0,293.3 1416.5,291.3 1417.0,293.6 1417.5,289.3 1418.0,291.4 1418.5,290.8 1419.0,291.6 1419.5,289.9 1420.0,294.0 1420.5,291.2 1421.0,292.8 1421.5,295.2 1422.0,295.4 1422.5,294.8 1423.0,289.3 1423.5,291.9 1424.0,292.1 1424.5,291.7 1425.0,291.2 1425.5,291.6 1426.0,293.1 1426.5,291.4 1427.0,290.2 1427.5,289.8 1428.0,292.8 1428.5,290.0 1429.0,293.9 1429.5,292.2 1430.0,292.2 1430.5,293.5 1431.0,292.8 1431.5,294.3 1432.0,290.9 1432.5,290.2 1433.0,296.1 1433.5,293.9 1434.0,289.7 1434.5,296.3 1435.0,291.2 1435.5,296.7 1436.0,296.2 1436.5,294.5 1436.9,292.5 1437.0,334.7 1437.5,335.6 1438.0,336.6 1438.5,337.5 1439.0,338.3 1439.5,338.7 1440.0,339.0 1440.5,339.8 1441.0,340.6 1441.5,341.1 1442.0,341.6 1442.5,342.2 1443.0,342.9 1443.5,343.2 1444.0,343.3 1444.5,343.5 1445.0,344.3 1445.5,345.0 1446.0,345.0 1446.5,344.9 1447.0,345.0 1447.5,345.5 1448.0,345.7 1448.5,345.6 1449.0,345.9 1449.5,346.2 1450.0,346.3 1450.5,346.5 1451.0,346.8 1451.5,346.9 1452.0,346.8 1452.5,347.0 1453.0,347.0 1453.5,346.6 1454.0,346.7 1454.5,347.2 1455.0,347.5 1455.5,347.6 1456.0,347.6 1456.5,348.0 1457.0,348.4 1457.5,348.3 1458.0,348.3 1458.5,347.9 1459.0,347.4 1459.5,347.4 1460.0,347.5 1460.5,347.6 1461.0,347.5 1461.5,347.9 1462.0,348.5 1462.5,348.5 1463.0,348.5 1463.5,348.5 1464.0,348.1 1464.5,348.1 1465.0,348.2 1465.5,348.1 1466.0,348.1 1466.5,348.4 1467.0,348.8 1467.5,348.8 1468.0,348.7 1468.5,348.4 1469.0,347.8 1469.5,347.6 1470.0,348.5 1470.5,349.1 1471.0,348.7 1471.5,348.3 1472.0,348.5 1472.5,348.6 1473.0,348.3 1473.5,348.4 1474.0,348.5 1474.5,348.5 1475.0,348.9 1475.5,349.1 1476.0,348.8 1476.5,348.4 1477.0,348.6 1477.5,348.9 1478.0,348.9 1478.5,348.6 1479.0,348.2 1479.5,348.0 1480.0,347.9 1480.5,348.1 1481.0,348.5 1481.5,348.3 1482.0,348.2 1482.5,348.5 1483.0,348.7 1483.5,348.6 1483.9,348.5 1484.0,303.0 1484.5,302.8 1485.0,305.2 1485.5,298.9 1486.0,299.2 1486.5,296.4 1487.0,296.3 1487.5,297.8 1488.0,295.5 1488.5,294.4 1489.0,293.7 1489.5,295.1 1490.0,296.4 1490.5,295.1 1491.0,293.6 1491.5,295.2 1492.0,295.1 1492.5,296.0 1493.0,292.8 1493.5,295.1 1494.0,293.6 1494.5,293.9 1495.0,296.8 1495.5,295.8 1496.0,295.0 1496.5,297.1 1497.0,295.5 1497.5,293.9 1498.0,297.0 1498.5,293.6 1499.0,293.7 1499.5,294.2 1500.0,294.4 1500.5,295.9 1501.0,293.8 1501.5,291.3 1502.0,293.1 1502.5,294.6 1503.0,293.8 1503.5,294.0 1504.0,292.2 1504.5,293.2 1505.0,294.7 1505.5,294.2 1506.0,292.0 1506.5,291.8 1507.0,291.4 1507.5,294.4 1508.0,291.5 1508.5,292.3 1509.0,291.8 1509.5,291.5 1510.0,292.4 1510.5,294.1 1511.0,291.8 1511.5,294.5 1512.0,292.6 1512.5,293.9 1513.0,297.0 1513.5,296.8 1514.0,293.8 1514.5,293.4 1515.0,293.1 1515.5,295.0 1516.0,291.0 1516.5,292.3 1517.0,293.2 1517.5,292.7 1518.0,292.2 1518.5,295.8 1519.0,291.7 1519.5,293.4 1520.0,293.2 1520.5,293.2 1521.0,291.9 1521.5,294.7 1522.0,293.4 1522.5,296.4 1523.0,291.0 1523.5,293.5 1524.0,291.4 1524.5,293.8 1525.0,295.3 1525.5,291.8 1526.0,295.3 1526.5,292.2 1527.0,291.7 1527.5,294.1 1528.0,295.0 1528.5,294.2 1529.0,294.6 1529.5,294.0 1530.0,293.2 1530.5,290.6 1531.0,292.8 1531.5,292.1 1532.0,294.1 1532.5,292.1 1533.0,296.6 1533.5,294.4 1534.0,292.6 1534.5,294.1 1535.0,292.4 1535.5,295.0 1536.0,292.2 1536.5,294.9 1537.0,291.0 1537.5,292.7 1538.0,292.6 1538.5,291.9 1539.0,293.0 1539.0,334.4 1539.5,335.4 1540.0,336.1 1540.5,337.0 1541.0,338.0 1541.5,338.9 1542.0,340.0 1542.5,340.6 1543.0,340.8 1543.5,341.3 1544.0,342.0 1544.5,342.4 1545.0,342.7 1545.5,343.1 1546.0,343.3 1546.5,343.8 1547.0,344.4 1547.5,344.4 1548.0,344.3 1548.5,344.7 1549.0,345.1 1549.5,345.3" fill="none" stroke="#178a17" stroke-width="2.3" stroke-linejoin="round"/>
<text x="1299.0" y="89.0" font-size="17.6" font-family="'Liberation Sans', Arial, sans-serif" font-weight="normal" fill="#111" text-anchor="start" textLength="71.5" lengthAdjust="spacingAndGlyphs" stroke="#111" stroke-width="0.45">SNR=6.8</text>
<line x1="1397.1" y1="88.4" x2="1423.9" y2="88.4" stroke="#e3161c" stroke-width="2.2"/>
<text x="1437.0" y="95.6" font-size="17.6" font-family="'Liberation Sans', Arial, sans-serif" fill="#111" textLength="90.5" lengthAdjust="spacingAndGlyphs" stroke="#111" stroke-width="0.45">130 nGy s<tspan font-size="12" dy="-8">−1</tspan></text>
<text x="1303.0" y="187.0" font-size="17.8" font-family="'Liberation Sans', Arial, sans-serif" font-weight="normal" fill="#111" text-anchor="start" textLength="81.5" lengthAdjust="spacingAndGlyphs" stroke="#111" stroke-width="0.45">SNR=11.5</text>
<line x1="1397.6" y1="188.8" x2="1424.0" y2="188.8" stroke="#1515d8" stroke-width="2"/>
<text x="1431.0" y="195.3" font-size="17.6" font-family="'Liberation Sans', Arial, sans-serif" fill="#111" textLength="91" lengthAdjust="spacingAndGlyphs" stroke="#111" stroke-width="0.45">670 nGy s<tspan font-size="12" dy="-8">−1</tspan></text>
<text x="1292.8" y="277.8" font-size="17.8" font-family="'Liberation Sans', Arial, sans-serif" font-weight="normal" fill="#111" text-anchor="start" textLength="82.0" lengthAdjust="spacingAndGlyphs" stroke="#111" stroke-width="0.45">SNR=16.9</text>
<line x1="1397.6" y1="280.0" x2="1424.0" y2="280.0" stroke="#178a17" stroke-width="2"/>
<text x="1432.5" y="283.5" font-size="17.6" font-family="'Liberation Sans', Arial, sans-serif" fill="#111" textLength="96" lengthAdjust="spacingAndGlyphs" stroke="#111" stroke-width="0.45">1.63 µGy s<tspan font-size="12" dy="-8">−1</tspan></text>
<text x="1211.2" y="240.3" font-size="17" font-family="'Liberation Sans', Arial, sans-serif" font-weight="normal" fill="#111" text-anchor="start" textLength="18.6" lengthAdjust="spacingAndGlyphs" stroke="#111" stroke-width="0.45">off</text>
<text x="1259.6" y="199.5" font-size="17.3" font-family="'Liberation Sans', Arial, sans-serif" font-weight="normal" fill="#111" text-anchor="start" textLength="19.5" lengthAdjust="spacingAndGlyphs" stroke="#111" stroke-width="0.45">on</text>
<text x="1339.1" y="433.6" font-size="24" font-family="'Liberation Sans', Arial, sans-serif" fill="#111" textLength="87.5" lengthAdjust="spacingAndGlyphs" stroke="#111" stroke-width="0.45">Time (s)</text>
<text transform="translate(1131.5,274.6) rotate(-90)" font-size="23.6" font-family="'Liberation Sans', Arial, sans-serif" fill="#111" textLength="135" lengthAdjust="spacingAndGlyphs" stroke="#111" stroke-width="0.45">Current (pA)</text>
<rect x="1690" y="52.3" width="383" height="308.3" fill="none" stroke="#222" stroke-width="2"/>
<line x1="1684.5" y1="360.6" x2="1690.0" y2="360.6" stroke="#111" stroke-width="2"/>
<text x="1674.2" y="368.5" font-size="23.6" font-family="'Liberation Sans', Arial, sans-serif" font-weight="normal" fill="#111" text-anchor="end" textLength="12.3" lengthAdjust="spacingAndGlyphs" stroke="#111" stroke-width="0.45">0</text>
<line x1="1684.5" y1="290.5" x2="1690.0" y2="290.5" stroke="#111" stroke-width="2"/>
<text x="1674.2" y="298.4" font-size="23.6" font-family="'Liberation Sans', Arial, sans-serif" font-weight="normal" fill="#111" text-anchor="end" textLength="36.9" lengthAdjust="spacingAndGlyphs" stroke="#111" stroke-width="0.45">400</text>
<line x1="1684.5" y1="220.4" x2="1690.0" y2="220.4" stroke="#111" stroke-width="2"/>
<text x="1674.2" y="228.3" font-size="23.6" font-family="'Liberation Sans', Arial, sans-serif" font-weight="normal" fill="#111" text-anchor="end" textLength="36.9" lengthAdjust="spacingAndGlyphs" stroke="#111" stroke-width="0.45">800</text>
<line x1="1684.5" y1="150.4" x2="1690.0" y2="150.4" stroke="#111" stroke-width="2"/>
<text x="1674.2" y="158.3" font-size="23.6" font-family="'Liberation Sans', Arial, sans-serif" font-weight="normal" fill="#111" text-anchor="end" textLength="49.2" lengthAdjust="spacingAndGlyphs" stroke="#111" stroke-width="0.45">1200</text>
<line x1="1684.5" y1="80.3" x2="1690.0" y2="80.3" stroke="#111" stroke-width="2"/>
<text x="1674.2" y="88.2" font-size="23.6" font-family="'Liberation Sans', Arial, sans-serif" font-weight="normal" fill="#111" text-anchor="end" textLength="49.2" lengthAdjust="spacingAndGlyphs" stroke="#111" stroke-width="0.45">1600</text>
<line x1="1687.0" y1="325.6" x2="1690.0" y2="325.6" stroke="#111" stroke-width="1.5"/>
<line x1="1687.0" y1="255.5" x2="1690.0" y2="255.5" stroke="#111" stroke-width="1.5"/>
<line x1="1687.0" y1="185.4" x2="1690.0" y2="185.4" stroke="#111" stroke-width="1.5"/>
<line x1="1687.0" y1="115.3" x2="1690.0" y2="115.3" stroke="#111" stroke-width="1.5"/>
<line x1="1690.0" y1="360.6" x2="1690.0" y2="366.6" stroke="#111" stroke-width="2"/>
<text x="1690.8" y="392.2" font-size="23.6" font-family="'Liberation Sans', Arial, sans-serif" font-weight="normal" fill="#111" text-anchor="middle" textLength="12.3" lengthAdjust="spacingAndGlyphs" stroke="#111" stroke-width="0.45">0</text>
<line x1="1753.8" y1="360.6" x2="1753.8" y2="366.6" stroke="#111" stroke-width="2"/>
<text x="1754.6" y="392.2" font-size="23.6" font-family="'Liberation Sans', Arial, sans-serif" font-weight="normal" fill="#111" text-anchor="middle" textLength="24.6" lengthAdjust="spacingAndGlyphs" stroke="#111" stroke-width="0.45">30</text>
<line x1="1817.7" y1="360.6" x2="1817.7" y2="366.6" stroke="#111" stroke-width="2"/>
<text x="1818.5" y="392.2" font-size="23.6" font-family="'Liberation Sans', Arial, sans-serif" font-weight="normal" fill="#111" text-anchor="middle" textLength="24.6" lengthAdjust="spacingAndGlyphs" stroke="#111" stroke-width="0.45">60</text>
<line x1="1881.5" y1="360.6" x2="1881.5" y2="366.6" stroke="#111" stroke-width="2"/>
<text x="1882.3" y="392.2" font-size="23.6" font-family="'Liberation Sans', Arial, sans-serif" font-weight="normal" fill="#111" text-anchor="middle" textLength="24.6" lengthAdjust="spacingAndGlyphs" stroke="#111" stroke-width="0.45">90</text>
<line x1="1945.3" y1="360.6" x2="1945.3" y2="366.6" stroke="#111" stroke-width="2"/>
<text x="1946.1" y="392.2" font-size="23.6" font-family="'Liberation Sans', Arial, sans-serif" font-weight="normal" fill="#111" text-anchor="middle" textLength="36.9" lengthAdjust="spacingAndGlyphs" stroke="#111" stroke-width="0.45">120</text>
<line x1="2009.2" y1="360.6" x2="2009.2" y2="366.6" stroke="#111" stroke-width="2"/>
<text x="2010.0" y="392.2" font-size="23.6" font-family="'Liberation Sans', Arial, sans-serif" font-weight="normal" fill="#111" text-anchor="middle" textLength="36.9" lengthAdjust="spacingAndGlyphs" stroke="#111" stroke-width="0.45">150</text>
<line x1="2073.0" y1="360.6" x2="2073.0" y2="366.6" stroke="#111" stroke-width="2"/>
<text x="2073.8" y="392.2" font-size="23.6" font-family="'Liberation Sans', Arial, sans-serif" font-weight="normal" fill="#111" text-anchor="middle" textLength="36.9" lengthAdjust="spacingAndGlyphs" stroke="#111" stroke-width="0.45">180</text>
<line x1="1721.9" y1="360.6" x2="1721.9" y2="364.1" stroke="#111" stroke-width="1.5"/>
<line x1="1785.8" y1="360.6" x2="1785.8" y2="364.1" stroke="#111" stroke-width="1.5"/>
<line x1="1849.6" y1="360.6" x2="1849.6" y2="364.1" stroke="#111" stroke-width="1.5"/>
<line x1="1913.4" y1="360.6" x2="1913.4" y2="364.1" stroke="#111" stroke-width="1.5"/>
<line x1="1977.3" y1="360.6" x2="1977.3" y2="364.1" stroke="#111" stroke-width="1.5"/>
<line x1="2041.1" y1="360.6" x2="2041.1" y2="364.1" stroke="#111" stroke-width="1.5"/>
<polyline points="1690.5,319.9 1690.8,324.6 1691.1,324.1 1691.4,317.8 1691.7,318.2 1692.0,317.7 1692.3,321.4 1692.6,319.6 1692.9,321.8 1693.2,313.3 1693.5,324.8 1693.8,319.6 1694.1,321.9 1694.4,319.1 1694.7,318.2 1695.0,321.3 1695.3,322.5 1695.6,318.9 1695.9,319.0 1696.2,321.8 1696.5,316.2 1696.8,314.0 1697.1,320.5 1697.4,316.8 1697.7,312.3 1698.0,316.1 1698.3,317.4 1698.6,314.8 1698.9,313.9 1699.2,319.5 1699.5,322.7 1699.8,318.7 1700.1,316.9 1700.4,320.9 1700.7,322.1 1701.0,318.7 1701.3,321.6 1701.6,323.3 1701.9,318.8 1702.2,316.6 1702.5,320.6 1702.8,320.7 1703.1,323.2 1703.4,315.0 1703.7,316.7 1704.0,316.0 1704.3,313.1 1704.6,319.7 1704.9,321.3 1705.2,317.2 1705.5,324.5 1705.8,322.9 1706.1,322.0 1706.4,321.3 1706.7,322.8 1707.0,315.0 1707.3,321.6 1707.4,319.5 1707.6,182.9 1707.9,174.8 1708.2,182.1 1708.5,180.3 1708.8,184.0 1709.1,180.1 1709.4,181.9 1709.7,183.3 1710.0,178.3 1710.3,183.7 1710.6,181.7 1710.9,184.3 1711.2,182.3 1711.5,187.5 1711.8,185.6 1712.1,183.1 1712.4,185.7 1712.7,187.7 1713.0,189.5 1713.3,178.0 1713.6,186.0 1713.9,184.8 1714.2,183.1 1714.5,180.6 1714.8,187.1 1715.1,179.2 1715.4,185.0 1715.7,187.1 1716.0,177.8 1716.3,182.0 1716.6,179.1 1716.9,184.7 1717.2,188.4 1717.5,190.2 1717.8,177.9 1718.1,181.5 1718.4,185.6 1718.7,188.5 1719.0,184.5 1719.3,181.8 1719.6,185.2 1719.9,184.3 1720.2,184.3 1720.5,182.5 1720.8,185.3 1721.1,185.3 1721.4,184.6 1721.7,185.3 1722.0,181.6 1722.3,184.7 1722.6,190.5 1722.9,185.5 1723.2,181.3 1723.5,190.7 1723.8,188.3 1724.1,193.0 1724.4,186.8 1724.7,183.8 1725.0,181.4 1725.3,192.2 1725.6,195.9 1725.9,184.7 1726.2,185.6 1726.5,189.7 1726.8,184.8 1727.1,186.9 1727.4,187.4 1727.7,189.0 1728.0,191.9 1728.3,187.9 1728.6,191.4 1728.9,186.5 1729.2,189.2 1729.5,182.4 1729.8,184.4 1730.1,192.6 1730.4,188.4 1730.7,191.2 1731.0,191.7 1731.3,194.8 1731.6,192.9 1731.9,193.2 1732.2,189.5 1732.5,187.7 1732.8,187.8 1733.1,188.0 1733.4,185.8 1733.7,187.4 1734.0,188.6 1734.3,189.3 1734.6,187.0 1734.9,181.9 1735.2,188.4 1735.5,189.3 1735.8,191.7 1736.1,190.3 1736.4,186.8 1736.4,190.2 1736.7,313.7 1737.0,323.6 1737.3,320.1 1737.6,324.1 1737.9,325.0 1738.2,314.9 1738.5,318.9 1738.8,319.6 1739.1,320.1 1739.4,320.2 1739.7,319.1 1740.0,318.7 1740.3,313.0 1740.6,317.5 1740.9,315.9 1741.2,318.9 1741.5,317.3 1741.8,321.2 1742.1,322.1 1742.4,320.3 1742.7,320.2 1743.0,319.4 1743.3,317.5 1743.6,318.4 1743.9,317.4 1744.2,320.5 1744.5,319.5 1744.8,321.1 1745.1,314.8 1745.4,322.1 1745.7,316.6 1746.0,316.5 1746.3,318.4 1746.6,317.4 1746.9,320.2 1747.2,317.2 1747.5,315.3 1747.8,316.4 1748.1,324.0 1748.4,319.6 1748.7,315.2 1749.0,318.9 1749.3,314.2 1749.6,325.3 1749.9,314.4 1750.2,321.0 1750.5,321.2 1750.8,314.4 1751.1,320.5 1751.4,323.2 1751.7,321.4 1752.0,320.7 1752.3,323.0 1752.6,320.3 1752.9,320.7 1753.2,319.2 1753.5,321.5 1753.8,316.4 1754.1,322.1 1754.4,317.6 1754.7,315.5 1755.0,320.9 1755.3,325.9 1755.6,323.2 1755.9,318.0 1756.2,321.8 1756.5,318.0 1756.8,319.0 1757.1,319.3 1757.4,311.2 1757.7,319.5 1758.0,315.7 1758.3,316.5 1758.6,313.7 1758.9,313.6 1759.2,316.0 1759.5,322.6 1759.8,325.7 1760.1,320.0 1760.4,323.4 1760.7,318.4 1761.0,312.6 1761.3,319.7 1761.6,321.0 1761.9,318.1 1762.2,320.6 1762.5,321.4 1762.8,316.2 1763.1,314.0 1763.4,318.4 1763.7,318.6 1764.0,318.4 1764.3,323.3 1764.6,325.8 1764.9,318.5 1765.2,322.1 1765.5,323.2 1765.8,322.5 1766.1,323.3 1766.4,318.5 1766.7,322.5 1767.0,327.1 1767.3,322.7 1767.6,317.6 1767.9,321.8 1768.2,324.2 1768.5,321.0 1768.8,317.9 1769.1,324.7 1769.2,319.5 1769.4,209.9 1769.7,215.6 1770.0,213.9 1770.3,210.0 1770.6,216.0 1770.9,214.9 1771.2,209.8 1771.5,215.8 1771.8,212.3 1772.1,207.7 1772.4,211.7 1772.7,215.0 1773.0,215.5 1773.3,214.0 1773.6,214.2 1773.9,215.9 1774.2,214.2 1774.5,218.9 1774.8,216.1 1775.1,216.2 1775.4,217.0 1775.7,212.1 1776.0,213.1 1776.3,220.2 1776.6,216.0 1776.9,213.8 1777.2,215.4 1777.5,212.6 1777.8,214.6 1778.1,210.6 1778.4,212.9 1778.7,206.2 1779.0,215.4 1779.3,208.8 1779.6,205.8 1779.9,210.3 1780.2,209.7 1780.5,210.8 1780.8,206.5 1781.1,211.7 1781.4,222.4 1781.7,206.4 1782.0,212.2 1782.3,210.6 1782.6,212.3 1782.9,206.9 1783.2,209.3 1783.5,214.9 1783.8,213.7 1784.1,219.0 1784.4,211.2 1784.7,217.8 1785.0,223.6 1785.3,211.9 1785.6,211.3 1785.9,214.1 1786.2,213.9 1786.5,216.8 1786.8,213.8 1787.1,210.9 1787.4,213.0 1787.7,220.9 1788.0,216.6 1788.3,203.2 1788.6,211.7 1788.9,209.9 1789.2,214.4 1789.5,211.6 1789.8,218.3 1790.1,215.6 1790.4,215.7 1790.7,213.8 1791.0,212.6 1791.3,214.6 1791.6,217.3 1791.9,215.5 1792.2,212.4 1792.5,218.1 1792.8,214.1 1793.1,219.6 1793.4,211.6 1793.7,211.8 1794.0,211.7 1794.3,205.3 1794.6,217.5 1794.9,215.3 1795.2,212.5 1795.5,216.6 1795.8,214.1 1796.1,214.1 1796.4,205.3 1796.7,210.0 1797.0,213.6 1797.3,218.7 1797.6,219.3 1797.9,217.9 1798.2,209.8 1798.5,207.0 1798.8,215.2 1799.1,213.0 1799.4,216.7 1799.7,213.9 1800.0,215.3 1800.3,210.2 1800.6,217.1 1800.9,213.9 1801.2,216.8 1801.5,217.6 1801.8,215.9 1802.1,217.3 1802.4,216.3 1802.7,219.1 1803.0,218.3 1803.3,214.7 1803.6,214.3 1803.9,222.2 1804.2,215.8 1804.5,219.3 1804.8,217.4 1805.1,214.2 1805.4,213.3 1805.7,216.0 1806.0,216.1 1806.3,217.1 1806.6,205.0 1806.9,213.0 1807.2,214.3 1807.5,219.2 1807.8,207.2 1808.1,216.2 1808.4,212.1 1808.7,215.3 1809.0,212.5 1809.3,215.1 1809.6,218.7 1809.8,214.6 1809.9,318.1 1810.2,318.5 1810.5,318.3 1810.8,314.7 1811.1,319.2 1811.4,316.9 1811.7,314.9 1812.0,317.6 1812.3,317.5 1812.6,320.9 1812.9,318.3 1813.2,316.9 1813.5,323.9 1813.8,322.8 1814.1,323.6 1814.4,321.2 1814.7,318.5 1815.0,317.4 1815.3,318.1 1815.6,322.4 1815.9,319.4 1816.2,313.8 1816.5,318.4 1816.8,314.1 1817.1,319.3 1817.4,314.7 1817.7,314.5 1818.0,319.5 1818.3,318.7 1818.6,313.5 1818.9,322.1 1819.2,327.0 1819.5,314.8 1819.8,325.5 1820.1,317.2 1820.4,317.5 1820.7,318.4 1821.0,314.4 1821.3,323.9 1821.6,321.3 1821.9,316.8 1822.2,318.0 1822.5,313.9 1822.8,318.1 1823.1,322.4 1823.4,313.4 1823.7,317.6 1824.0,320.1 1824.3,323.5 1824.6,324.5 1824.9,318.0 1825.2,316.8 1825.5,320.9 1825.8,318.2 1826.1,318.5 1826.4,323.7 1826.7,325.8 1827.0,320.7 1827.3,319.0 1827.6,321.1 1827.9,312.8 1828.2,318.8 1828.5,316.1 1828.8,328.0 1829.1,322.6 1829.4,320.1 1829.7,318.3 1830.0,310.5 1830.3,321.9 1830.6,325.4 1830.9,317.3 1831.2,322.0 1831.5,321.9 1831.8,314.3 1832.1,322.8 1832.4,324.6 1832.7,320.6 1833.0,319.5 1833.3,322.0 1833.6,314.1 1833.9,319.7 1834.2,323.1 1834.5,315.4 1834.8,322.7 1835.1,317.8 1835.4,311.9 1835.7,318.5 1836.0,316.0 1836.3,320.2 1836.6,315.6 1836.9,322.9 1837.2,317.1 1837.5,320.5 1837.8,317.4 1838.1,318.5 1838.4,323.8 1838.7,320.4 1839.0,317.9 1839.3,315.1 1839.6,323.6 1839.9,322.3 1840.2,318.5 1840.5,320.1 1840.8,315.6 1841.1,315.5 1841.4,316.4 1841.7,320.7 1842.0,320.5 1842.3,317.0 1842.6,322.2 1842.9,322.5 1843.2,320.5 1843.5,323.2 1843.8,318.7 1844.1,319.1 1844.4,321.2 1844.6,319.5 1844.7,250.8 1845.0,254.2 1845.3,247.6 1845.6,254.6 1845.9,250.1 1846.2,252.2 1846.5,247.8 1846.8,248.6 1847.1,256.8 1847.4,257.6 1847.7,256.6 1848.0,249.2 1848.3,252.1 1848.6,254.2 1848.9,252.8 1849.2,260.2 1849.5,257.1 1849.8,256.1 1850.1,258.4 1850.4,253.7 1850.7,254.5 1851.0,254.8 1851.3,260.0 1851.6,259.1 1851.9,259.6 1852.2,266.4 1852.5,253.9 1852.8,255.9 1853.1,258.2 1853.4,254.6 1853.7,257.7 1854.0,262.4 1854.3,263.3 1854.6,263.8 1854.9,260.7 1855.2,259.6 1855.5,264.1 1855.8,259.5 1856.1,262.0 1856.4,264.9 1856.7,259.9 1857.0,259.6 1857.3,262.0 1857.6,263.1 1857.9,262.3 1858.2,261.1 1858.5,263.0 1858.8,256.1 1859.1,258.4 1859.4,261.7 1859.7,258.3 1860.0,256.1 1860.3,256.2 1860.6,256.8 1860.9,259.5 1861.2,256.6 1861.5,261.0 1861.8,265.9 1862.1,260.1 1862.4,265.7 1862.7,262.7 1863.0,257.8 1863.3,260.7 1863.6,257.6 1863.9,263.4 1864.2,257.6 1864.5,267.1 1864.8,265.5 1865.1,257.8 1865.4,267.4 1865.7,269.7 1866.0,261.5 1866.3,267.2 1866.6,258.2 1866.9,264.0 1867.2,257.6 1867.5,264.8 1867.8,257.5 1868.1,254.6 1868.4,264.1 1868.7,270.6 1869.0,260.1 1869.3,264.0 1869.6,261.4 1869.9,259.1 1870.2,262.0 1870.5,265.4 1870.8,255.6 1871.1,261.8 1871.4,261.2 1871.7,255.1 1872.0,264.6 1872.3,266.0 1872.6,257.0 1872.9,265.8 1873.2,260.0 1873.5,259.7 1873.8,265.5 1874.1,261.4 1874.4,261.7 1874.7,265.7 1875.0,265.1 1875.3,264.4 1875.6,256.5 1875.9,250.1 1876.2,265.3 1876.5,258.5 1876.8,261.9 1877.1,258.3 1877.4,260.8 1877.7,257.1 1878.0,266.3 1878.3,256.9 1878.6,260.2 1878.9,259.9 1879.2,264.1 1879.5,255.1 1879.8,259.2 1880.1,258.8 1880.4,260.5 1880.7,259.4 1881.0,256.2 1881.3,258.1 1881.6,255.5 1881.9,258.9 1882.2,256.9 1882.5,255.0 1882.8,256.7 1883.1,258.2 1883.4,262.4 1883.7,254.7 1884.0,257.1 1884.3,257.0 1884.6,249.4 1884.9,250.0 1885.2,252.3 1885.5,255.4 1885.8,263.6 1886.1,256.6 1886.4,258.2 1886.7,253.3 1887.0,245.9 1887.3,246.2 1887.6,256.3 1887.9,253.1 1888.2,248.6 1888.5,256.0 1888.8,247.1 1889.0,250.7 1889.1,321.6 1889.4,323.0 1889.7,315.2 1890.0,314.0 1890.3,320.8 1890.6,314.7 1890.9,321.0 1891.2,314.5 1891.5,321.3 1891.8,319.1 1892.1,317.0 1892.4,315.6 1892.7,319.2 1893.0,312.1 1893.3,317.6 1893.6,317.7 1893.9,321.2 1894.2,315.1 1894.5,325.0 1894.8,318.2 1895.1,315.3 1895.4,324.4 1895.7,325.5 1896.0,318.8 1896.3,316.1 1896.6,319.1 1896.9,316.8 1897.2,318.4 1897.5,325.0 1897.8,321.1 1898.1,320.1 1898.4,320.7 1898.7,319.4 1899.0,322.6 1899.3,322.7 1899.6,318.3 1899.9,320.2 1900.2,328.2 1900.5,321.4 1900.8,319.3 1901.1,326.8 1901.4,319.7 1901.7,315.7 1902.0,321.5 1902.3,316.3 1902.6,317.6 1902.9,320.5 1903.2,318.9 1903.5,316.6 1903.8,317.2 1904.1,317.5 1904.4,323.4 1904.7,317.0 1905.0,317.7 1905.3,326.6 1905.6,318.2 1905.9,325.0 1906.2,324.5 1906.5,318.9 1906.8,314.4 1907.1,321.0 1907.4,322.2 1907.7,323.1 1908.0,320.2 1908.3,324.1 1908.6,324.5 1908.9,316.3 1909.2,324.5 1909.5,320.3 1909.8,317.4 1910.1,318.6 1910.4,326.4 1910.7,323.1 1911.0,313.3 1911.3,319.4 1911.6,319.0 1911.9,318.7 1912.2,317.3 1912.5,314.3 1912.8,322.1 1913.1,316.2 1913.4,317.9 1913.7,317.1 1914.0,316.9 1914.3,322.1 1914.6,320.9 1914.9,317.0 1915.2,315.9 1915.5,317.8 1915.8,322.9 1916.1,320.2 1916.4,320.3 1916.7,318.3 1917.0,318.5 1917.3,319.9 1917.6,313.2 1917.9,324.8 1918.2,316.9 1918.5,317.6 1918.8,324.2 1919.1,320.6 1919.4,319.6 1919.7,317.1 1920.0,313.8 1920.3,320.1 1920.6,323.7 1920.9,316.8 1921.2,324.0 1921.5,315.6 1921.8,316.7 1922.1,321.2 1922.4,319.7 1922.7,321.8 1923.0,316.8 1923.3,315.3 1923.6,312.3 1923.9,314.6 1924.2,315.1 1924.5,314.2 1924.8,320.2 1925.1,316.8 1925.4,312.7 1925.7,327.9 1926.0,316.7 1926.3,315.1 1926.6,323.9 1926.7,319.5 1926.9,278.6 1927.2,270.1 1927.5,269.2 1927.8,271.0 1928.1,277.9 1928.4,273.6 1928.7,271.7 1929.0,275.0 1929.3,279.1 1929.6,270.8 1929.9,273.3 1930.2,270.2 1930.5,281.5 1930.8,279.7 1931.1,277.8 1931.4,274.8 1931.7,277.9 1932.0,269.4 1932.3,276.6 1932.6,270.8 1932.9,276.6 1933.2,273.2 1933.5,273.8 1933.8,276.5 1934.1,277.0 1934.4,275.8 1934.7,271.2 1935.0,276.8 1935.3,274.1 1935.6,278.1 1935.9,271.5 1936.2,265.8 1936.5,273.7 1936.8,282.1 1937.1,276.7 1937.4,274.5 1937.7,278.4 1938.0,277.1 1938.3,276.6 1938.6,273.8 1938.9,275.6 1939.2,276.4 1939.5,273.8 1939.8,272.3 1940.1,276.3 1940.4,278.9 1940.7,277.8 1941.0,276.5 1941.3,276.7 1941.6,283.6 1941.9,275.7 1942.2,277.3 1942.5,280.9 1942.8,275.4 1943.1,276.0 1943.4,278.5 1943.7,280.6 1944.0,275.8 1944.3,275.7 1944.6,275.2 1944.9,270.6 1945.2,278.1 1945.5,273.1 1945.8,268.9 1946.1,274.3 1946.4,269.7 1946.7,272.2 1947.0,274.8 1947.3,272.0 1947.6,278.1 1947.9,270.2 1948.2,275.9 1948.5,276.6 1948.8,280.5 1949.1,277.9 1949.4,276.0 1949.7,275.5 1950.0,275.0 1950.3,278.7 1950.6,272.8 1950.9,276.5 1951.2,274.5 1951.5,275.9 1951.8,274.3 1952.1,282.2 1952.4,273.6 1952.7,276.8 1953.0,277.5 1953.3,278.5 1953.6,278.5 1953.9,278.1 1954.2,280.1 1954.5,272.8 1954.8,278.1 1955.1,274.3 1955.4,279.0 1955.7,274.8 1956.0,275.3 1956.3,277.7 1956.6,282.2 1956.9,279.3 1957.2,278.0 1957.5,281.2 1957.8,273.2 1958.1,263.8 1958.4,275.0 1958.7,279.4 1959.0,279.5 1959.3,281.8 1959.6,270.3 1959.9,282.7 1960.2,279.1 1960.5,277.6 1960.8,276.3 1961.1,288.6 1961.4,274.7 1961.7,273.3 1962.0,275.5 1962.3,270.5 1962.6,276.7 1962.8,275.5 1962.9,318.0 1963.2,319.6 1963.5,319.7 1963.8,315.1 1964.1,323.0 1964.4,315.6 1964.7,321.5 1965.0,313.4 1965.3,319.8 1965.6,316.2 1965.9,318.9 1966.2,316.4 1966.5,311.0 1966.8,314.8 1967.1,319.4 1967.4,321.2 1967.7,313.7 1968.0,311.2 1968.3,315.7 1968.6,318.3 1968.9,316.9 1969.2,316.5 1969.5,322.5 1969.8,323.2 1970.1,322.1 1970.4,316.2 1970.7,319.5 1971.0,318.5 1971.3,314.5 1971.6,322.4 1971.9,319.9 1972.2,318.1 1972.5,324.7 1972.8,322.7 1973.1,323.0 1973.4,324.2 1973.7,322.1 1974.0,315.0 1974.3,318.1 1974.6,322.9 1974.9,317.0 1975.2,319.6 1975.5,321.3 1975.8,325.1 1976.1,324.7 1976.4,323.0 1976.7,319.2 1977.0,322.9 1977.3,321.6 1977.6,319.3 1977.9,324.5 1978.2,321.4 1978.5,317.2 1978.8,323.9 1979.1,319.0 1979.4,321.3 1979.7,314.2 1980.0,319.0 1980.3,315.9 1980.6,315.5 1980.9,312.9 1981.2,326.8 1981.5,319.5 1981.8,320.6 1982.1,323.6 1982.4,319.4 1982.7,321.1 1983.0,314.8 1983.3,319.9 1983.6,318.2 1983.9,321.3 1984.2,320.0 1984.5,314.2 1984.8,312.4 1985.1,315.7 1985.4,322.1 1985.7,321.3 1986.0,320.7 1986.3,311.8 1986.6,309.3 1986.9,316.7 1987.2,318.1 1987.5,317.4 1987.8,320.6 1988.1,318.7 1988.4,315.0 1988.7,316.1 1989.0,319.9 1989.3,319.8 1989.6,319.7 1989.9,327.6 1990.2,319.0 1990.5,319.7 1990.8,315.9 1991.1,318.1 1991.4,321.4 1991.7,321.6 1992.0,319.1 1992.3,320.9 1992.6,319.4 1992.9,312.1 1993.2,307.8 1993.5,327.3 1993.8,322.9 1994.1,319.1 1994.4,313.0 1994.7,314.8 1995.0,323.6 1995.3,309.7 1995.6,317.9 1995.9,322.6 1996.2,320.3 1996.5,322.2 1996.8,319.7 1997.1,327.9 1997.1,319.5 1997.4,300.6 1997.7,299.0 1998.0,305.3 1998.3,308.8 1998.6,304.6 1998.9,307.9 1999.2,302.8 1999.5,300.9 1999.8,309.5 2000.1,309.7 2000.4,309.8 2000.7,303.4 2001.0,299.7 2001.3,299.2 2001.6,302.4 2001.9,305.1 2002.2,305.3 2002.5,297.5 2002.8,303.0 2003.1,301.9 2003.4,301.7 2003.7,301.3 2004.0,301.1 2004.3,303.0 2004.6,301.5 2004.9,301.7 2005.2,298.2 2005.5,301.7 2005.8,300.9 2006.1,294.2 2006.4,302.4 2006.7,299.4 2007.0,302.9 2007.3,301.9 2007.6,302.4 2007.9,304.0 2008.2,303.5 2008.5,301.3 2008.8,297.3 2009.1,309.8 2009.4,298.7 2009.7,302.6 2010.0,305.8 2010.3,304.0 2010.6,304.6 2010.9,305.1 2011.2,306.4 2011.5,302.3 2011.8,310.6 2012.1,298.1 2012.4,301.9 2012.7,299.6 2013.0,299.5 2013.3,302.5 2013.6,305.2 2013.9,298.5 2014.2,298.6 2014.5,303.9 2014.8,303.1 2015.1,307.8 2015.4,304.9 2015.7,302.2 2016.0,301.0 2016.3,302.0 2016.6,300.8 2016.9,297.1 2017.2,301.9 2017.5,301.5 2017.8,301.6 2018.1,301.8 2018.4,308.0 2018.7,304.3 2019.0,304.9 2019.3,300.0 2019.6,298.5 2019.9,301.1 2020.2,302.9 2020.5,300.2 2020.8,300.5 2021.1,303.8 2021.4,301.6 2021.7,297.3 2022.0,299.2 2022.3,297.8 2022.6,300.1 2022.9,296.8 2023.2,300.8 2023.5,303.6 2023.8,301.0 2024.1,297.5 2024.4,298.5 2024.7,301.1 2025.0,303.3 2025.3,304.8 2025.6,302.0 2025.9,297.9 2026.2,306.3 2026.5,307.7 2026.6,302.0 2026.8,320.6 2027.1,320.0 2027.4,315.4 2027.7,317.8 2028.0,320.2 2028.3,323.0 2028.6,319.0 2028.9,308.0 2029.2,317.9 2029.5,320.8 2029.8,324.2 2030.1,322.7 2030.4,328.7 2030.7,325.3 2031.0,324.7 2031.3,322.8 2031.6,314.8 2031.9,322.3 2032.2,321.6 2032.5,317.8 2032.8,321.5 2033.1,321.0 2033.4,317.8 2033.7,318.9 2034.0,318.5 2034.3,320.2 2034.6,318.1 2034.9,321.0 2035.2,312.6 2035.5,317.7 2035.8,313.3 2036.1,317.5 2036.4,321.2 2036.7,319.6 2037.0,319.1 2037.3,320.0 2037.6,324.9 2037.9,316.0 2038.2,322.2 2038.5,314.1 2038.8,317.5 2039.1,319.8 2039.4,316.5 2039.7,320.2 2040.0,321.9 2040.3,315.3 2040.6,318.9 2040.9,317.7 2041.2,312.4 2041.5,318.3 2041.8,316.9 2042.1,324.0 2042.4,317.0 2042.7,325.3 2043.0,318.3 2043.3,326.5 2043.6,321.9 2043.9,321.4 2044.2,322.7 2044.5,323.2 2044.8,325.1 2045.1,325.9 2045.4,318.3 2045.7,314.4 2046.0,309.6 2046.3,317.7 2046.6,322.2 2046.9,321.0 2047.2,319.9 2047.5,318.1 2047.8,317.1 2048.1,318.4 2048.4,320.5 2048.7,313.4 2049.0,321.5 2049.3,314.4 2049.6,318.5 2049.9,317.1 2050.2,317.8 2050.5,315.4 2050.8,315.1 2051.1,318.2 2051.4,316.0 2051.7,328.0 2052.0,318.3 2052.3,316.9 2052.6,317.2 2052.9,315.0 2053.2,310.4 2053.5,318.1 2053.8,320.2 2054.1,314.1 2054.4,318.9 2054.7,315.1 2055.0,319.2 2055.3,320.9 2055.6,321.4 2055.9,321.0 2056.2,317.2 2056.5,322.4 2056.8,318.1 2057.1,320.8 2057.4,322.0 2057.7,318.3 2058.0,314.9 2058.3,321.2 2058.6,315.4 2058.9,315.8 2059.2,315.5 2059.5,322.2 2059.8,318.6 2060.1,311.5 2060.4,322.1 2060.7,327.4 2061.0,326.2 2061.3,317.8 2061.6,319.7 2061.9,321.3" fill="none" stroke="#ee1111" stroke-width="2.8" stroke-linejoin="round"/>
<line x1="1902.6" y1="100.6" x2="1940.0" y2="100.6" stroke="#e3161c" stroke-width="3"/>
<text x="1950.2" y="104" font-size="18.6" font-family="'Liberation Sans', Arial, sans-serif" fill="#111" textLength="91" lengthAdjust="spacingAndGlyphs" stroke="#111" stroke-width="0.45">50 V mm<tspan font-size="13" dy="-9">−1</tspan></text>
<text x="1705.6" y="149.4" font-size="20" font-family="'Liberation Sans', Arial, sans-serif" fill="#111" textLength="117.5" lengthAdjust="spacingAndGlyphs" stroke="#111" stroke-width="0.45">63.4 µGy s<tspan font-size="14" dy="-9">−1</tspan><tspan dy="9">)</tspan></text>
<text x="1776.0" y="192.3" font-size="19.4" font-family="'Liberation Sans', Arial, sans-serif" font-weight="normal" fill="#111" text-anchor="start" textLength="38.5" lengthAdjust="spacingAndGlyphs" stroke="#111" stroke-width="0.45">49.2</text>
<text x="1849.5" y="237.7" font-size="19.4" font-family="'Liberation Sans', Arial, sans-serif" font-weight="normal" fill="#111" text-anchor="start" textLength="38.5" lengthAdjust="spacingAndGlyphs" stroke="#111" stroke-width="0.45">31.9</text>
<text x="1922.5" y="263.4" font-size="19.4" font-family="'Liberation Sans', Arial, sans-serif" font-weight="normal" fill="#111" text-anchor="start" textLength="39.6" lengthAdjust="spacingAndGlyphs" stroke="#111" stroke-width="0.45">17.7</text>
<text x="1992.8" y="281.0" font-size="19.4" font-family="'Liberation Sans', Arial, sans-serif" font-weight="normal" fill="#111" text-anchor="start" textLength="38.5" lengthAdjust="spacingAndGlyphs" stroke="#111" stroke-width="0.45">7.73</text>
<text x="1840.4" y="425.9" font-size="22.6" font-family="'Liberation Sans', Arial, sans-serif" fill="#111" textLength="82" lengthAdjust="spacingAndGlyphs" stroke="#111" stroke-width="0.45">Time (s)</text>
<text transform="translate(1609.9,272.7) rotate(-90)" font-size="23" font-family="'Liberation Sans', Arial, sans-serif" fill="#111" textLength="125.3" lengthAdjust="spacingAndGlyphs" stroke="#111" stroke-width="0.45">Current (pA)</text>
<defs>
<linearGradient id="ph1" x1="0" y1="0" x2="0.3" y2="1">
 <stop offset="0" stop-color="#d3d3d4"/><stop offset="0.5" stop-color="#d5d5d9"/><stop offset="1" stop-color="#d7d7dc"/>
</linearGradient>
<linearGradient id="cfL" x1="0" y1="0" x2="1" y2="0.3">
 <stop offset="0" stop-color="#cacacd"/><stop offset="0.4" stop-color="#b8b8ba"/><stop offset="0.7" stop-color="#9c9c9a"/><stop offset="1" stop-color="#a6a6a4"/>
</linearGradient>
<linearGradient id="cfR" x1="0" y1="0" x2="1" y2="0">
 <stop offset="0" stop-color="#b0b0b0"/><stop offset="0.4" stop-color="#9a9a96"/><stop offset="0.75" stop-color="#a0a09c"/><stop offset="1" stop-color="#b8b8ba"/>
</linearGradient>
<radialGradient id="brG" cx="0.38" cy="0.35" r="0.7">
 <stop offset="0" stop-color="#e06a3a"/><stop offset="0.6" stop-color="#b23c18"/><stop offset="1" stop-color="#7a2410"/>
</radialGradient>
<radialGradient id="iG" cx="0.5" cy="0.5" r="0.5">
 <stop offset="0" stop-color="#f0a8e0"/><stop offset="0.1" stop-color="#c06890"/><stop offset="0.25" stop-color="#843848"/><stop offset="0.75" stop-color="#76303f"/><stop offset="0.92" stop-color="#5a2230"/><stop offset="1" stop-color="#3c1620"/>
</radialGradient>
<radialGradient id="ph2" cx="0.5" cy="0.45" r="0.75">
 <stop offset="0" stop-color="#d0d5d4"/><stop offset="1" stop-color="#c6cbcb"/>
</radialGradient>
<filter id="soft" x="-5%" y="-5%" width="110%" height="110%"><feGaussianBlur stdDeviation="1.1"/></filter>
<filter id="soft2" x="-5%" y="-5%" width="110%" height="110%"><feGaussianBlur stdDeviation="0.8"/></filter>
<clipPath id="clip1"><rect x="121" y="518" width="375.3" height="351.5"/></clipPath>
<clipPath id="clip2"><rect x="1123" y="503" width="368.2" height="349.4"/></clipPath>
</defs>
<g clip-path="url(#clip1)">
<rect x="121" y="518" width="375.3" height="351.5" fill="url(#ph1)"/>
<g filter="url(#soft2)">
<polygon points="121.0,817.0 235.0,820.5 303.0,843.5 295.0,846.0 121.0,843.0" fill="#0b0b12" stroke="none" stroke-width="1"/>
<polygon points="152.0,792.0 180.7,775.5 186.0,779.0 303.0,843.0 292.0,846.0 177.0,791.0 160.0,797.0" fill="#0b0b12" stroke="none" stroke-width="1"/>
<polygon points="121.0,846.0 127.0,844.0 186.0,870.0 162.0,870.0 121.0,852.0" fill="#0b0b12" stroke="none" stroke-width="1"/>
<polygon points="392.0,644.0 418.0,626.0 424.0,633.0 496.0,673.0 496.0,684.0 421.0,641.0 398.0,648.0" fill="#0b0b12" stroke="none" stroke-width="1"/>
<path d="M437,710 C448,713 458,720 470,721 C480,722 490,719 497,714 L497,728 C488,733 470,737 450,735 L437,734 Z" fill="#0b0b12"/>
<path d="M437,708 C448,711 458,718 470,719 C480,720 490,717 497,712" fill="none" stroke="#d8d2a8" stroke-width="2.2" opacity="0.8"/>
<path d="M419,630 L496,671" fill="none" stroke="#d8d2a8" stroke-width="2" opacity="0.7"/>
<path d="M186,776 L303,840" fill="none" stroke="#d8d2a8" stroke-width="2" opacity="0.6"/>
<path d="M121,815 L235,818" fill="none" stroke="#d8d2a8" stroke-width="2" opacity="0.6"/>
</g>
<g filter="url(#soft)">
<polygon points="184.0,698.6 318.0,757.0 319.7,825.0 179.0,776.0" fill="url(#cfL)" stroke="none" stroke-width="1"/>
<polygon points="318.0,757.0 430.4,688.0 428.0,762.0 319.7,825.0" fill="url(#cfR)" stroke="none" stroke-width="1"/>
<polygon points="184.0,698.6 305.7,632.5 430.4,688.0 318.0,757.0" fill="#c8c8ce" stroke="none" stroke-width="1"/>
<polygon points="232.0,722.0 246.0,728.0 247.0,800.0 233.0,794.0" fill="#9c9ca2" stroke="none" stroke-width="1" opacity="0.6"/>
<polygon points="268.0,745.0 318.0,765.0 319.0,822.0 270.0,805.0" fill="#8e8e94" stroke="none" stroke-width="1" opacity="0.55"/>
<polygon points="345.0,745.0 380.0,725.0 382.0,790.0 347.0,808.0" fill="#a0a0a6" stroke="none" stroke-width="1" opacity="0.5"/>
<polygon points="392.0,718.0 428.0,697.0 427.0,760.0 393.0,780.0" fill="#c6c6ca" stroke="none" stroke-width="1" opacity="0.6"/>
<polygon points="324.0,812.0 358.0,800.0 360.0,806.0 326.0,823.0" fill="#303038" stroke="none" stroke-width="1" opacity="0.8"/>
<ellipse cx="290" cy="790" rx="10" ry="18" fill="#6e6e6a" opacity="0.35"/>
<ellipse cx="300" cy="770" rx="8" ry="10" fill="#5a5a58" opacity="0.3"/>
<ellipse cx="365" cy="770" rx="12" ry="16" fill="#7a7a76" opacity="0.3"/>
<ellipse cx="395" cy="745" rx="8" ry="14" fill="#8a8a86" opacity="0.3"/>
<ellipse cx="250" cy="760" rx="6" ry="20" fill="#e0e0e4" opacity="0.35"/>
<ellipse cx="200" cy="740" rx="8" ry="22" fill="#dcdce0" opacity="0.4"/>
<ellipse cx="340" cy="790" rx="6" ry="8" fill="#f0f0f0" opacity="0.3"/>
<polygon points="185.5,697.0 223.0,682.0 228.0,693.0 205.0,709.0" fill="#1c1c2e" stroke="none" stroke-width="1" opacity="0.9"/>
<polygon points="268.0,652.0 305.7,640.0 310.0,664.0 274.0,674.6" fill="#1c1c2a" stroke="none" stroke-width="1" opacity="0.9"/>
<polygon points="305.7,653.5 317.7,652.0 397.3,709.0 391.3,715.0" fill="#1a1a2c" stroke="none" stroke-width="1" opacity="0.9"/>
<polygon points="312.0,639.0 320.0,637.0 430.0,688.0 424.0,692.0" fill="#2a2a3c" stroke="none" stroke-width="1" opacity="0.8"/>
<polygon points="205.0,709.0 280.0,700.0 355.3,703.0 394.3,713.6 385.3,724.0 310.2,721.0 235.0,718.0 208.0,715.0" fill="#1a1a2e" stroke="none" stroke-width="1" opacity="0.85"/>
<polygon points="232.0,719.0 240.0,717.0 320.0,752.0 316.0,758.0" fill="#1e1e2c" stroke="none" stroke-width="1" opacity="0.85"/>
<polygon points="228.0,657.0 262.0,645.0 272.0,668.0 236.0,680.0" fill="#e4e4ea" stroke="none" stroke-width="1" opacity="0.8"/>
<polygon points="318.0,656.0 330.0,652.0 395.0,690.0 386.0,696.0" fill="#e0e0e8" stroke="none" stroke-width="1" opacity="0.6"/>
<polygon points="260.0,708.0 300.0,703.0 318.0,712.0 280.0,714.0" fill="#d8d4c0" stroke="none" stroke-width="1" opacity="0.7"/>
<polygon points="330.0,706.0 360.0,704.0 375.0,710.0 345.0,712.0" fill="#d8d4c0" stroke="none" stroke-width="1" opacity="0.7"/>
<line x1="184.0" y1="698.6" x2="305.7" y2="632.5" stroke="#e8e6d8" stroke-width="2.5"/>
<line x1="305.7" y1="632.5" x2="430.4" y2="688.0" stroke="#e0dfd4" stroke-width="2.5"/>
<line x1="318.0" y1="757.0" x2="430.4" y2="688.0" stroke="#e2e2e6" stroke-width="3"/>
<line x1="184.0" y1="698.6" x2="318.0" y2="757.0" stroke="#d8d8dc" stroke-width="3"/>
<line x1="318.0" y1="757.0" x2="319.7" y2="825.0" stroke="#d0d0d4" stroke-width="3"/>
<circle cx="258" cy="771" r="2.2" fill="#f4f4f4"/><circle cx="277" cy="805" r="2.5" fill="#f4f4f4"/>
</g>
</g>
<line x1="553.5" y1="493.6" x2="831.0" y2="489.6" stroke="#8a8a8a" stroke-width="1.1"/>
<line x1="553.5" y1="496.0" x2="831.0" y2="494.0" stroke="#8a8a8a" stroke-width="1.1"/>
<line x1="556.0" y1="881.0" x2="833.0" y2="883.0" stroke="#8a8a8a" stroke-width="1.1"/>
<line x1="556.0" y1="878.0" x2="833.0" y2="876.0" stroke="#8a8a8a" stroke-width="1.1"/>
<line x1="553.5" y1="493.0" x2="554.5" y2="882.0" stroke="#8a8a8a" stroke-width="1.1"/>
<line x1="555.0" y1="493.0" x2="556.0" y2="882.0" stroke="#8a8a8a" stroke-width="1.1"/>
<line x1="831.5" y1="493.0" x2="832.5" y2="882.0" stroke="#8a8a8a" stroke-width="1.1"/>
<line x1="682.0" y1="520.0" x2="682.0" y2="880.0" stroke="#8a8a8a" stroke-width="1.1"/>
<line x1="703.0" y1="495.0" x2="703.0" y2="880.0" stroke="#8a8a8a" stroke-width="1.1"/>
<polygon points="650.0,461.5 706.3,453.4 729.0,466.8 679.4,525.8" fill="#8fa893" stroke="none" stroke-width="1" opacity="0.95"/>
<polygon points="729.0,466.8 739.8,523.1 679.4,525.8" fill="#5f7b63" stroke="none" stroke-width="1" opacity="0.95"/>
<polygon points="650.0,461.5 706.3,453.4 729.0,466.8" fill="#6f8a72" stroke="none" stroke-width="1" opacity="0.6"/>
<line x1="725.0" y1="470.8" x2="683.4" y2="522.8" stroke="#b8ccba" stroke-width="5" opacity="0.6"/>
<circle cx="699.6" cy="494.3" r="4.5" fill="#3cb458"/>
<circle cx="690.6" cy="488.3" r="2.6" fill="#e8c040"/>
<circle cx="706.6" cy="487.3" r="2.6" fill="#e8c040"/>
<circle cx="693.6" cy="502.3" r="2.6" fill="#e8c040"/>
<circle cx="708.6" cy="499.3" r="2.6" fill="#e8c040"/>
<polygon points="593.6,521.8 652.6,513.7 675.4,525.8 620.5,586.1" fill="#8fa893" stroke="none" stroke-width="1" opacity="0.95"/>
<polygon points="675.4,525.8 679.4,586.1 620.5,586.1" fill="#5f7b63" stroke="none" stroke-width="1" opacity="0.95"/>
<polygon points="593.6,521.8 652.6,513.7 675.4,525.8" fill="#6f8a72" stroke="none" stroke-width="1" opacity="0.6"/>
<line x1="671.4" y1="529.8" x2="624.5" y2="583.1" stroke="#b8ccba" stroke-width="5" opacity="0.6"/>
<circle cx="642.2" cy="554.9" r="4.5" fill="#3cb458"/>
<circle cx="633.2" cy="548.9" r="2.6" fill="#e8c040"/>
<circle cx="649.2" cy="547.9" r="2.6" fill="#e8c040"/>
<circle cx="636.2" cy="562.9" r="2.6" fill="#e8c040"/>
<circle cx="651.2" cy="559.9" r="2.6" fill="#e8c040"/>
<polygon points="742.5,524.5 801.5,516.4 824.3,529.8 776.0,591.5" fill="#8fa893" stroke="none" stroke-width="1" opacity="0.95"/>
<polygon points="824.3,529.8 831.0,594.2 776.0,591.5" fill="#5f7b63" stroke="none" stroke-width="1" opacity="0.95"/>
<polygon points="742.5,524.5 801.5,516.4 824.3,529.8" fill="#6f8a72" stroke="none" stroke-width="1" opacity="0.6"/>
<line x1="820.3" y1="533.8" x2="780.0" y2="588.5" stroke="#b8ccba" stroke-width="5" opacity="0.6"/>
<circle cx="793.5" cy="560.0" r="4.5" fill="#3cb458"/>
<circle cx="784.5" cy="554.0" r="2.6" fill="#e8c040"/>
<circle cx="800.5" cy="553.0" r="2.6" fill="#e8c040"/>
<circle cx="787.5" cy="568.0" r="2.6" fill="#e8c040"/>
<circle cx="802.5" cy="565.0" r="2.6" fill="#e8c040"/>
<polygon points="553.4,596.9 617.8,587.5 635.2,588.8 582.9,659.9" fill="#8fa893" stroke="none" stroke-width="1" opacity="0.95"/>
<polygon points="635.2,588.8 648.6,661.2 582.9,659.9" fill="#5f7b63" stroke="none" stroke-width="1" opacity="0.95"/>
<polygon points="553.4,596.9 617.8,587.5 635.2,588.8" fill="#6f8a72" stroke="none" stroke-width="1" opacity="0.6"/>
<line x1="631.2" y1="592.8" x2="586.9" y2="656.9" stroke="#b8ccba" stroke-width="5" opacity="0.6"/>
<circle cx="605.0" cy="626.7" r="4.5" fill="#3cb458"/>
<circle cx="596.0" cy="620.7" r="2.6" fill="#e8c040"/>
<circle cx="612.0" cy="619.7" r="2.6" fill="#e8c040"/>
<circle cx="599.0" cy="634.7" r="2.6" fill="#e8c040"/>
<circle cx="614.0" cy="631.7" r="2.6" fill="#e8c040"/>
<polygon points="682.1,590.2 746.5,582.1 784.0,591.5 733.1,662.6" fill="#8fa893" stroke="none" stroke-width="1" opacity="0.95"/>
<polygon points="784.0,591.5 797.4,662.6 733.1,662.6" fill="#5f7b63" stroke="none" stroke-width="1" opacity="0.95"/>
<polygon points="682.1,590.2 746.5,582.1 784.0,591.5" fill="#6f8a72" stroke="none" stroke-width="1" opacity="0.6"/>
<line x1="780.0" y1="595.5" x2="737.1" y2="659.6" stroke="#b8ccba" stroke-width="5" opacity="0.6"/>
<circle cx="749.1" cy="626.7" r="4.5" fill="#3cb458"/>
<circle cx="740.1" cy="620.7" r="2.6" fill="#e8c040"/>
<circle cx="756.1" cy="619.7" r="2.6" fill="#e8c040"/>
<circle cx="743.1" cy="634.7" r="2.6" fill="#e8c040"/>
<circle cx="758.1" cy="631.7" r="2.6" fill="#e8c040"/>
<polygon points="654.0,662.0 705.0,655.0 738.0,668.0 680.0,725.0" fill="#8fa893" stroke="none" stroke-width="1" opacity="0.95"/>
<polygon points="738.0,668.0 747.0,712.0 680.0,725.0" fill="#5f7b63" stroke="none" stroke-width="1" opacity="0.95"/>
<polygon points="654.0,662.0 705.0,655.0 738.0,668.0" fill="#6f8a72" stroke="none" stroke-width="1" opacity="0.6"/>
<line x1="734.0" y1="672.0" x2="684.0" y2="722.0" stroke="#b8ccba" stroke-width="5" opacity="0.6"/>
<circle cx="704.8" cy="691.8" r="4.5" fill="#3cb458"/>
<circle cx="695.8" cy="685.8" r="2.6" fill="#e8c040"/>
<circle cx="711.8" cy="684.8" r="2.6" fill="#e8c040"/>
<circle cx="698.8" cy="699.8" r="2.6" fill="#e8c040"/>
<circle cx="713.8" cy="696.8" r="2.6" fill="#e8c040"/>
<polygon points="598.1,713.8 657.6,717.8 677.8,727.3 618.4,782.7" fill="#8fa893" stroke="none" stroke-width="1" opacity="0.95"/>
<polygon points="677.8,727.3 691.4,777.3 618.4,782.7" fill="#5f7b63" stroke="none" stroke-width="1" opacity="0.95"/>
<polygon points="598.1,713.8 657.6,717.8 677.8,727.3" fill="#6f8a72" stroke="none" stroke-width="1" opacity="0.6"/>
<line x1="673.8" y1="731.3" x2="622.4" y2="779.7" stroke="#b8ccba" stroke-width="5" opacity="0.6"/>
<circle cx="646.4" cy="750.3" r="4.5" fill="#3cb458"/>
<circle cx="637.4" cy="744.3" r="2.6" fill="#e8c040"/>
<circle cx="653.4" cy="743.3" r="2.6" fill="#e8c040"/>
<circle cx="640.4" cy="758.3" r="2.6" fill="#e8c040"/>
<circle cx="655.4" cy="755.3" r="2.6" fill="#e8c040"/>
<polygon points="750.8,717.8 806.2,720.5 821.0,720.5 777.8,785.4" fill="#8fa893" stroke="none" stroke-width="1" opacity="0.95"/>
<polygon points="821.0,720.5 840.0,778.6 777.8,785.4" fill="#5f7b63" stroke="none" stroke-width="1" opacity="0.95"/>
<polygon points="750.8,717.8 806.2,720.5 821.0,720.5" fill="#6f8a72" stroke="none" stroke-width="1" opacity="0.6"/>
<line x1="817.0" y1="724.5" x2="781.8" y2="782.4" stroke="#b8ccba" stroke-width="5" opacity="0.6"/>
<circle cx="797.4" cy="750.6" r="4.5" fill="#3cb458"/>
<circle cx="788.4" cy="744.6" r="2.6" fill="#e8c040"/>
<circle cx="804.4" cy="743.6" r="2.6" fill="#e8c040"/>
<circle cx="791.4" cy="758.6" r="2.6" fill="#e8c040"/>
<circle cx="806.4" cy="755.6" r="2.6" fill="#e8c040"/>
<polygon points="563.0,782.7 618.4,780.0 636.0,788.1 581.9,853.0" fill="#8fa893" stroke="none" stroke-width="1" opacity="0.95"/>
<polygon points="636.0,788.1 652.2,851.6 581.9,853.0" fill="#5f7b63" stroke="none" stroke-width="1" opacity="0.95"/>
<polygon points="563.0,782.7 618.4,780.0 636.0,788.1" fill="#6f8a72" stroke="none" stroke-width="1" opacity="0.6"/>
<line x1="632.0" y1="792.1" x2="585.9" y2="850.0" stroke="#b8ccba" stroke-width="5" opacity="0.6"/>
<circle cx="608.3" cy="818.9" r="4.5" fill="#3cb458"/>
<circle cx="599.3" cy="812.9" r="2.6" fill="#e8c040"/>
<circle cx="615.3" cy="811.9" r="2.6" fill="#e8c040"/>
<circle cx="602.3" cy="826.9" r="2.6" fill="#e8c040"/>
<circle cx="617.3" cy="823.9" r="2.6" fill="#e8c040"/>
<polygon points="702.2,780.0 765.7,780.0 784.6,790.8 729.2,855.7" fill="#8fa893" stroke="none" stroke-width="1" opacity="0.95"/>
<polygon points="784.6,790.8 800.8,854.3 729.2,855.7" fill="#5f7b63" stroke="none" stroke-width="1" opacity="0.95"/>
<polygon points="702.2,780.0 765.7,780.0 784.6,790.8" fill="#6f8a72" stroke="none" stroke-width="1" opacity="0.6"/>
<line x1="780.6" y1="794.8" x2="733.2" y2="852.7" stroke="#b8ccba" stroke-width="5" opacity="0.6"/>
<circle cx="754.2" cy="820.2" r="4.5" fill="#3cb458"/>
<circle cx="745.2" cy="814.2" r="2.6" fill="#e8c040"/>
<circle cx="761.2" cy="813.2" r="2.6" fill="#e8c040"/>
<circle cx="748.2" cy="828.2" r="2.6" fill="#e8c040"/>
<circle cx="763.2" cy="825.2" r="2.6" fill="#e8c040"/>
<polygon points="652.2,851.6 707.6,843.5 729.2,853.0 676.5,916.5" fill="#8fa893" stroke="none" stroke-width="1" opacity="0.95"/>
<polygon points="729.2,853.0 744.0,915.1 676.5,916.5" fill="#5f7b63" stroke="none" stroke-width="1" opacity="0.95"/>
<polygon points="652.2,851.6 707.6,843.5 729.2,853.0" fill="#6f8a72" stroke="none" stroke-width="1" opacity="0.6"/>
<line x1="725.2" y1="857.0" x2="680.5" y2="913.5" stroke="#b8ccba" stroke-width="5" opacity="0.6"/>
<circle cx="700.5" cy="884.0" r="4.5" fill="#3cb458"/>
<circle cx="691.5" cy="878.0" r="2.6" fill="#e8c040"/>
<circle cx="707.5" cy="877.0" r="2.6" fill="#e8c040"/>
<circle cx="694.5" cy="892.0" r="2.6" fill="#e8c040"/>
<circle cx="709.5" cy="889.0" r="2.6" fill="#e8c040"/>
<line x1="728.0" y1="503.4" x2="746.5" y2="508.6" stroke="#b8b8b8" stroke-width="2"/>
<line x1="746.5" y1="508.6" x2="757.0" y2="519.2" stroke="#b8b8b8" stroke-width="2"/>
<line x1="757.0" y1="519.2" x2="743.8" y2="532.4" stroke="#b8b8b8" stroke-width="2"/>
<line x1="743.8" y1="532.4" x2="741.2" y2="537.7" stroke="#b8b8b8" stroke-width="2"/>
<line x1="741.2" y1="537.7" x2="717.4" y2="543.0" stroke="#b8b8b8" stroke-width="2"/>
<line x1="691.0" y1="569.4" x2="688.4" y2="572.0" stroke="#b8b8b8" stroke-width="2"/>
<line x1="688.4" y1="572.0" x2="709.5" y2="579.9" stroke="#b8b8b8" stroke-width="2"/>
<line x1="688.4" y1="572.0" x2="680.5" y2="590.5" stroke="#b8b8b8" stroke-width="2"/>
<line x1="680.5" y1="590.5" x2="685.8" y2="609.0" stroke="#b8b8b8" stroke-width="2"/>
<line x1="745.4" y1="697.7" x2="751.8" y2="714.5" stroke="#b8b8b8" stroke-width="2"/>
<line x1="751.8" y1="714.5" x2="738.6" y2="727.8" stroke="#b8b8b8" stroke-width="2"/>
<line x1="738.6" y1="727.8" x2="720.0" y2="731.4" stroke="#b8b8b8" stroke-width="2"/>
<line x1="738.6" y1="727.8" x2="741.2" y2="735.7" stroke="#b8b8b8" stroke-width="2"/>
<line x1="688.4" y1="770.0" x2="672.6" y2="775.3" stroke="#b8b8b8" stroke-width="2"/>
<line x1="672.6" y1="775.3" x2="672.6" y2="791.1" stroke="#b8b8b8" stroke-width="2"/>
<line x1="672.6" y1="791.1" x2="688.4" y2="788.5" stroke="#b8b8b8" stroke-width="2"/>
<line x1="688.4" y1="788.5" x2="699.0" y2="801.7" stroke="#b8b8b8" stroke-width="2"/>
<line x1="688.4" y1="770.0" x2="709.5" y2="764.7" stroke="#b8b8b8" stroke-width="2"/>
<line x1="709.5" y1="764.7" x2="706.9" y2="777.9" stroke="#b8b8b8" stroke-width="2"/>
<circle cx="746.5" cy="508.6" r="3.4" fill="#f6f6f6" stroke="#aaa" stroke-width="0.8"/>
<circle cx="757" cy="519.2" r="3.4" fill="#f6f6f6" stroke="#aaa" stroke-width="0.8"/>
<circle cx="743.8" cy="532.4" r="3.4" fill="#f6f6f6" stroke="#aaa" stroke-width="0.8"/>
<circle cx="717.4" cy="543" r="3.4" fill="#f6f6f6" stroke="#aaa" stroke-width="0.8"/>
<circle cx="688.4" cy="572" r="3.4" fill="#f6f6f6" stroke="#aaa" stroke-width="0.8"/>
<circle cx="709.5" cy="579.9" r="3.4" fill="#f6f6f6" stroke="#aaa" stroke-width="0.8"/>
<circle cx="680.5" cy="590.5" r="3.4" fill="#f6f6f6" stroke="#aaa" stroke-width="0.8"/>
<circle cx="685.8" cy="609" r="3.4" fill="#f6f6f6" stroke="#aaa" stroke-width="0.8"/>
<circle cx="751.8" cy="714.5" r="3.4" fill="#f6f6f6" stroke="#aaa" stroke-width="0.8"/>
<circle cx="738.6" cy="727.8" r="3.4" fill="#f6f6f6" stroke="#aaa" stroke-width="0.8"/>
<circle cx="741.2" cy="735.7" r="3.4" fill="#f6f6f6" stroke="#aaa" stroke-width="0.8"/>
<circle cx="672.6" cy="775.3" r="3.4" fill="#f6f6f6" stroke="#aaa" stroke-width="0.8"/>
<circle cx="672.6" cy="791.1" r="3.4" fill="#f6f6f6" stroke="#aaa" stroke-width="0.8"/>
<circle cx="709.5" cy="764.7" r="3.4" fill="#f6f6f6" stroke="#aaa" stroke-width="0.8"/>
<circle cx="706.9" cy="777.9" r="3.4" fill="#f6f6f6" stroke="#aaa" stroke-width="0.8"/>
<circle cx="688.4" cy="788.5" r="3.4" fill="#f6f6f6" stroke="#aaa" stroke-width="0.8"/>
<circle cx="728" cy="503.4" r="4.6" fill="#1e8a3c"/>
<circle cx="741.2" cy="537.7" r="4.6" fill="#1e8a3c"/>
<circle cx="691" cy="569.4" r="4.6" fill="#1e8a3c"/>
<circle cx="745.4" cy="697.7" r="4.6" fill="#1e8a3c"/>
<circle cx="720" cy="731.4" r="4.6" fill="#1e8a3c"/>
<circle cx="688.4" cy="770" r="4.6" fill="#1e8a3c"/>
<circle cx="699" cy="801.7" r="4.6" fill="#1e8a3c"/>
<circle cx="650" cy="461.5" r="5.8" fill="url(#brG)"/>
<circle cx="706.3" cy="453.4" r="5.8" fill="url(#brG)"/>
<circle cx="729" cy="466.8" r="5.8" fill="url(#brG)"/>
<circle cx="593.6" cy="521.8" r="5.8" fill="url(#brG)"/>
<circle cx="652.6" cy="513.7" r="5.8" fill="url(#brG)"/>
<circle cx="674.1" cy="523.1" r="5.8" fill="url(#brG)"/>
<circle cx="675.5" cy="527" r="5.8" fill="url(#brG)"/>
<circle cx="742.5" cy="524.5" r="5.8" fill="url(#brG)"/>
<circle cx="801.5" cy="516.4" r="5.8" fill="url(#brG)"/>
<circle cx="824.3" cy="529.8" r="5.8" fill="url(#brG)"/>
<circle cx="615" cy="579.4" r="5.8" fill="url(#brG)"/>
<circle cx="617.8" cy="587" r="5.8" fill="url(#brG)"/>
<circle cx="635.2" cy="588.8" r="5.8" fill="url(#brG)"/>
<circle cx="682.1" cy="591.5" r="5.8" fill="url(#brG)"/>
<circle cx="702.2" cy="600.1" r="5.8" fill="url(#brG)"/>
<circle cx="746.5" cy="580.8" r="5.8" fill="url(#brG)"/>
<circle cx="763.9" cy="582.1" r="5.8" fill="url(#brG)"/>
<circle cx="766.6" cy="588.8" r="5.8" fill="url(#brG)"/>
<circle cx="784" cy="591.5" r="5.8" fill="url(#brG)"/>
<circle cx="831" cy="594.2" r="5.8" fill="url(#brG)"/>
<circle cx="553.4" cy="596.9" r="5.8" fill="url(#brG)"/>
<circle cx="574.9" cy="649.2" r="5.8" fill="url(#brG)"/>
<circle cx="582.9" cy="658.6" r="5.8" fill="url(#brG)"/>
<circle cx="648.6" cy="661.2" r="5.8" fill="url(#brG)"/>
<circle cx="703.6" cy="643.8" r="5.8" fill="url(#brG)"/>
<circle cx="711.6" cy="651.9" r="5.8" fill="url(#brG)"/>
<circle cx="723.7" cy="653.2" r="5.8" fill="url(#brG)"/>
<circle cx="733.1" cy="662" r="5.8" fill="url(#brG)"/>
<circle cx="797.4" cy="663.4" r="5.8" fill="url(#brG)"/>
<circle cx="598.1" cy="713.8" r="5.8" fill="url(#brG)"/>
<circle cx="657.6" cy="717.8" r="5.8" fill="url(#brG)"/>
<circle cx="671.1" cy="717.8" r="5.8" fill="url(#brG)"/>
<circle cx="677.8" cy="727.3" r="5.8" fill="url(#brG)"/>
<circle cx="746.8" cy="716.5" r="5.8" fill="url(#brG)"/>
<circle cx="806.2" cy="720.5" r="5.8" fill="url(#brG)"/>
<circle cx="821" cy="720.5" r="5.8" fill="url(#brG)"/>
<circle cx="563" cy="782.7" r="5.8" fill="url(#brG)"/>
<circle cx="617" cy="780" r="5.8" fill="url(#brG)"/>
<circle cx="636" cy="788.1" r="5.8" fill="url(#brG)"/>
<circle cx="692.7" cy="777.3" r="5.8" fill="url(#brG)"/>
<circle cx="711.6" cy="785.4" r="5.8" fill="url(#brG)"/>
<circle cx="746.8" cy="781.4" r="5.8" fill="url(#brG)"/>
<circle cx="765.7" cy="782.2" r="5.8" fill="url(#brG)"/>
<circle cx="784.6" cy="790.8" r="5.8" fill="url(#brG)"/>
<circle cx="840" cy="778.6" r="5.8" fill="url(#brG)"/>
<circle cx="580.5" cy="853" r="5.8" fill="url(#brG)"/>
<circle cx="652.2" cy="851.6" r="5.8" fill="url(#brG)"/>
<circle cx="707.6" cy="843.5" r="5.8" fill="url(#brG)"/>
<circle cx="729.2" cy="853" r="5.8" fill="url(#brG)"/>
<circle cx="800.8" cy="854.3" r="5.8" fill="url(#brG)"/>
<circle cx="676.5" cy="915.1" r="5.8" fill="url(#brG)"/>
<circle cx="744" cy="915.1" r="5.8" fill="url(#brG)"/>
<circle cx="777.3" cy="654.5" r="6" fill="#6a6a30" opacity="0.7"/>
<circle cx="775" cy="807" r="6" fill="#6a6a30" opacity="0.6"/>
<line x1="821.5" y1="445.5" x2="827.5" y2="448.9" stroke="#555" stroke-width="2"/>
<line x1="856.2" y1="448.9" x2="860.9" y2="445.5" stroke="#777" stroke-width="2"/>
<circle cx="931.5" cy="519.6" r="13.5" fill="#999" opacity="0.5"/>
<circle cx="930.5" cy="518.6" r="13" fill="#a83e22" stroke="#7a2a14" stroke-width="1.5"/>
<text x="955.6" y="526.9" font-size="24.5" font-family="'Liberation Sans', Arial, sans-serif" font-weight="normal" fill="#111" text-anchor="start" stroke="#111" stroke-width="0.45">Br</text>
<circle cx="931.5" cy="557.8" r="13.5" fill="#999" opacity="0.5"/>
<circle cx="930.5" cy="556.8" r="13" fill="#ffffff" stroke="#888" stroke-width="1.5"/>
<text x="958.5" y="565.1" font-size="24.5" font-family="'Liberation Sans', Arial, sans-serif" font-weight="normal" fill="#111" text-anchor="start" stroke="#111" stroke-width="0.45">C</text>
<circle cx="931.5" cy="594.9" r="13.5" fill="#999" opacity="0.5"/>
<circle cx="930.5" cy="593.9" r="13" fill="#1c8c46" stroke="#12602e" stroke-width="1.5"/>
<text x="958.5" y="602.2" font-size="24.5" font-family="'Liberation Sans', Arial, sans-serif" font-weight="normal" fill="#111" text-anchor="start" stroke="#111" stroke-width="0.45">N</text>
<circle cx="931.5" cy="633.5" r="13.5" fill="#999" opacity="0.5"/>
<circle cx="930.5" cy="632.5" r="13" fill="#f6b81a" stroke="#b88a18" stroke-width="1.5"/>
<text x="958.5" y="640.8" font-size="24.5" font-family="'Liberation Sans', Arial, sans-serif" font-weight="normal" fill="#111" text-anchor="start" stroke="#111" stroke-width="0.45">H</text>
<line x1="955.4" y1="776.0" x2="915.0" y2="776.5" stroke="#1f5a25" stroke-width="3.5"/>
<polygon points="898.3,777.5 926.0,768.5 922.0,777.0 926.0,786.0" fill="#1f5a25" stroke="none" stroke-width="1"/>
<line x1="955.4" y1="776.0" x2="995.0" y2="776.0" stroke="#c0282d" stroke-width="3"/>
<polygon points="1022.3,776.0 992.0,767.0 996.0,776.0 992.0,785.0" fill="#8b1a1a" stroke="none" stroke-width="1"/>
<line x1="956.0" y1="776.0" x2="956.0" y2="822.0" stroke="#2a3590" stroke-width="3.5"/>
<polygon points="956.0,847.4 947.5,819.6 956.0,823.0 964.5,819.6" fill="#2a3590" stroke="none" stroke-width="1"/>
<text transform="translate(877.5,779.5) scale(0.7,1)" font-size="29" font-weight="bold" font-family="'Liberation Sans', Arial, sans-serif" fill="#2e8b3e">y</text>
<text transform="translate(1034.5,777.6) scale(0.7,1)" font-size="29" font-weight="bold" font-family="'Liberation Sans', Arial, sans-serif" fill="#e0302f">x</text>
<text transform="translate(952,869.2) scale(0.7,1)" font-size="29" font-weight="bold" font-family="'Liberation Sans', Arial, sans-serif" fill="#2a3590">z</text>
<g clip-path="url(#clip2)">
<rect x="1123" y="503" width="368.2" height="349.4" fill="url(#ph2)"/>
<g filter="url(#soft2)">
<line x1="1101.5" y1="503.0" x2="1101.5" y2="853.0" stroke="#86828a" stroke-width="2.8"/>
<line x1="1141.3" y1="503.0" x2="1141.3" y2="853.0" stroke="#86828a" stroke-width="2.8"/>
<line x1="1220.8" y1="503.0" x2="1220.8" y2="853.0" stroke="#86828a" stroke-width="2.8"/>
<line x1="1260.5" y1="503.0" x2="1260.5" y2="853.0" stroke="#86828a" stroke-width="2.8"/>
<line x1="1300.3" y1="503.0" x2="1300.3" y2="853.0" stroke="#86828a" stroke-width="2.8"/>
<line x1="1340.0" y1="503.0" x2="1340.0" y2="853.0" stroke="#86828a" stroke-width="2.8"/>
<line x1="1419.5" y1="503.0" x2="1419.5" y2="853.0" stroke="#86828a" stroke-width="2.8"/>
<line x1="1459.3" y1="503.0" x2="1459.3" y2="853.0" stroke="#86828a" stroke-width="2.8"/>
<line x1="1499.0" y1="503.0" x2="1499.0" y2="853.0" stroke="#86828a" stroke-width="2.8"/>
<line x1="1123.0" y1="466.2" x2="1492.0" y2="466.2" stroke="#86828a" stroke-width="2.8"/>
<line x1="1123.0" y1="506.0" x2="1492.0" y2="506.0" stroke="#86828a" stroke-width="2.8"/>
<line x1="1123.0" y1="585.5" x2="1492.0" y2="585.5" stroke="#86828a" stroke-width="2.8"/>
<line x1="1123.0" y1="625.2" x2="1492.0" y2="625.2" stroke="#86828a" stroke-width="2.8"/>
<line x1="1123.0" y1="665.0" x2="1492.0" y2="665.0" stroke="#86828a" stroke-width="2.8"/>
<line x1="1123.0" y1="704.8" x2="1492.0" y2="704.8" stroke="#86828a" stroke-width="2.8"/>
<line x1="1123.0" y1="784.2" x2="1492.0" y2="784.2" stroke="#86828a" stroke-width="2.8"/>
<line x1="1123.0" y1="824.0" x2="1492.0" y2="824.0" stroke="#86828a" stroke-width="2.8"/>
<line x1="1123.0" y1="863.8" x2="1492.0" y2="863.8" stroke="#86828a" stroke-width="2.8"/>
<line x1="1181.0" y1="503.0" x2="1181.0" y2="853.0" stroke="#d8a098" stroke-width="8.5" opacity="0.55"/>
<line x1="1379.8" y1="503.0" x2="1379.8" y2="853.0" stroke="#d8a098" stroke-width="8.5" opacity="0.55"/>
<line x1="1123.0" y1="546.0" x2="1492.0" y2="546.0" stroke="#d8a098" stroke-width="8.5" opacity="0.55"/>
<line x1="1123.0" y1="744.6" x2="1492.0" y2="744.6" stroke="#d8a098" stroke-width="8.5" opacity="0.55"/>
<line x1="1181.0" y1="503.0" x2="1181.0" y2="853.0" stroke="#b85a4a" stroke-width="5"/>
<line x1="1379.8" y1="503.0" x2="1379.8" y2="853.0" stroke="#b85a4a" stroke-width="5"/>
<line x1="1123.0" y1="546.0" x2="1492.0" y2="546.0" stroke="#b85a4a" stroke-width="5"/>
<line x1="1123.0" y1="744.6" x2="1492.0" y2="744.6" stroke="#b85a4a" stroke-width="5"/>
<polygon points="1194.1,557.4 1420.0,555.3 1411.7,714.3 1179.5,716.4" fill="#cdd0cd" stroke="none" stroke-width="1" opacity="0.5"/>
<polygon points="1194.1,553.0 1420.0,551.5 1419.5,559.0 1195.0,561.0" fill="#e8eae4" stroke="none" stroke-width="1" opacity="0.85"/>
<polygon points="1181.0,706.0 1412.0,704.0 1411.7,713.0 1179.5,715.0" fill="#e8e8e4" stroke="none" stroke-width="1" opacity="0.75"/>
<polygon points="1188.0,557.0 1197.0,558.0 1184.0,714.0 1178.0,716.0" fill="#dcdedc" stroke="none" stroke-width="1" opacity="0.7"/>
<polygon points="1410.0,556.0 1420.0,555.3 1413.0,714.3 1404.0,712.0" fill="#b0b4b4" stroke="none" stroke-width="1" opacity="0.5"/>
<circle cx="1256" cy="571" r="6" fill="#f2f3f0" opacity="0.95"/>
<circle cx="1259" cy="582" r="4" fill="#f2f3f0" opacity="0.9"/>
<circle cx="1300" cy="620" r="10" fill="#f2f3f0" opacity="0.3"/>
<circle cx="1322" cy="650" r="9" fill="#f2f3f0" opacity="0.35"/>
<circle cx="1290" cy="690" r="8" fill="#f2f3f0" opacity="0.45"/>
<circle cx="1350" cy="660" r="7" fill="#f2f3f0" opacity="0.4"/>
<circle cx="1385" cy="650" r="5" fill="#f2f3f0" opacity="0.55"/>
<circle cx="1240" cy="690" r="9" fill="#f2f3f0" opacity="0.3"/>
<circle cx="1370" cy="600" r="11" fill="#f2f3f0" opacity="0.3"/>
<circle cx="1230" cy="600" r="10" fill="#f2f3f0" opacity="0.25"/>
<circle cx="1330" cy="585" r="9" fill="#f2f3f0" opacity="0.25"/>
<circle cx="1340" cy="615" r="10" fill="#8a8c8a" opacity="0.25"/>
<circle cx="1395" cy="620" r="9" fill="#8a8c8a" opacity="0.25"/>
<circle cx="1270" cy="650" r="8" fill="#8a8c8a" opacity="0.2"/>
</g>
<line x1="1177.4" y1="772.9" x2="1376.2" y2="772.9" stroke="#3d9fb2" stroke-width="4.5"/>
<text x="1220.5" y="824" font-size="33" font-family="'Liberation Sans', Arial, sans-serif" fill="#4a9cad" textLength="84" lengthAdjust="spacingAndGlyphs" stroke="#4a9cad" stroke-width="0.45">5 mm</text>
</g>
<line x1="1657.2" y1="514.0" x2="1560.5" y2="601.1" stroke="#9a9a9a" stroke-width="2.2"/>
<line x1="1560.5" y1="601.1" x2="1650.6" y2="678.9" stroke="#9a9a9a" stroke-width="2.2"/>
<line x1="1657.2" y1="514.0" x2="1644.0" y2="585.2" stroke="#9a9a9a" stroke-width="2.2"/>
<line x1="1644.0" y1="585.2" x2="1650.6" y2="678.9" stroke="#9a9a9a" stroke-width="2.2"/>
<line x1="1657.2" y1="514.0" x2="1725.4" y2="594.5" stroke="#9a9a9a" stroke-width="2.2"/>
<line x1="1725.4" y1="594.5" x2="1650.6" y2="678.9" stroke="#9a9a9a" stroke-width="2.2"/>
<line x1="1560.5" y1="601.1" x2="1644.0" y2="585.2" stroke="#9a9a9a" stroke-width="2.2"/>
<line x1="1644.0" y1="585.2" x2="1725.4" y2="594.5" stroke="#9a9a9a" stroke-width="2.2"/>
<line x1="1560.5" y1="601.1" x2="1725.4" y2="594.5" stroke="#9a9a9a" stroke-width="2.2"/>
<line x1="1822.2" y1="506.1" x2="1725.4" y2="594.5" stroke="#9a9a9a" stroke-width="2.2"/>
<line x1="1725.4" y1="594.5" x2="1816.0" y2="671.4" stroke="#9a9a9a" stroke-width="2.2"/>
<line x1="1822.2" y1="506.1" x2="1808.1" y2="578.6" stroke="#9a9a9a" stroke-width="2.2"/>
<line x1="1808.1" y1="578.6" x2="1816.0" y2="671.4" stroke="#9a9a9a" stroke-width="2.2"/>
<line x1="1822.2" y1="506.1" x2="1889.4" y2="585.2" stroke="#9a9a9a" stroke-width="2.2"/>
<line x1="1889.4" y1="585.2" x2="1816.0" y2="671.4" stroke="#9a9a9a" stroke-width="2.2"/>
<line x1="1725.4" y1="594.5" x2="1808.1" y2="578.6" stroke="#9a9a9a" stroke-width="2.2"/>
<line x1="1808.1" y1="578.6" x2="1889.4" y2="585.2" stroke="#9a9a9a" stroke-width="2.2"/>
<line x1="1725.4" y1="594.5" x2="1889.4" y2="585.2" stroke="#9a9a9a" stroke-width="2.2"/>
<line x1="1650.6" y1="678.9" x2="1553.9" y2="764.7" stroke="#9a9a9a" stroke-width="2.2"/>
<line x1="1553.9" y1="764.7" x2="1645.3" y2="843.0" stroke="#9a9a9a" stroke-width="2.2"/>
<line x1="1650.6" y1="678.9" x2="1635.7" y2="750.6" stroke="#9a9a9a" stroke-width="2.2"/>
<line x1="1635.7" y1="750.6" x2="1645.3" y2="843.0" stroke="#9a9a9a" stroke-width="2.2"/>
<line x1="1650.6" y1="678.9" x2="1720.1" y2="758.1" stroke="#9a9a9a" stroke-width="2.2"/>
<line x1="1720.1" y1="758.1" x2="1645.3" y2="843.0" stroke="#9a9a9a" stroke-width="2.2"/>
<line x1="1553.9" y1="764.7" x2="1635.7" y2="750.6" stroke="#9a9a9a" stroke-width="2.2"/>
<line x1="1635.7" y1="750.6" x2="1720.1" y2="758.1" stroke="#9a9a9a" stroke-width="2.2"/>
<line x1="1553.9" y1="764.7" x2="1720.1" y2="758.1" stroke="#9a9a9a" stroke-width="2.2"/>
<line x1="1816.0" y1="671.4" x2="1720.1" y2="758.1" stroke="#9a9a9a" stroke-width="2.2"/>
<line x1="1720.1" y1="758.1" x2="1809.0" y2="835.9" stroke="#9a9a9a" stroke-width="2.2"/>
<line x1="1816.0" y1="671.4" x2="1802.8" y2="742.7" stroke="#9a9a9a" stroke-width="2.2"/>
<line x1="1802.8" y1="742.7" x2="1809.0" y2="835.9" stroke="#9a9a9a" stroke-width="2.2"/>
<line x1="1816.0" y1="671.4" x2="1884.2" y2="750.6" stroke="#9a9a9a" stroke-width="2.2"/>
<line x1="1884.2" y1="750.6" x2="1809.0" y2="835.9" stroke="#9a9a9a" stroke-width="2.2"/>
<line x1="1720.1" y1="758.1" x2="1802.8" y2="742.7" stroke="#9a9a9a" stroke-width="2.2"/>
<line x1="1802.8" y1="742.7" x2="1884.2" y2="750.6" stroke="#9a9a9a" stroke-width="2.2"/>
<line x1="1720.1" y1="758.1" x2="1884.2" y2="750.6" stroke="#9a9a9a" stroke-width="2.2"/>
<line x1="1560.5" y1="605.1" x2="1725.4" y2="598.5" stroke="#a8a8a8" stroke-width="1.8"/>
<line x1="1725.4" y1="598.5" x2="1889.4" y2="589.2" stroke="#a8a8a8" stroke-width="1.8"/>
<line x1="1553.9" y1="768.7" x2="1720.1" y2="762.1" stroke="#a8a8a8" stroke-width="1.8"/>
<line x1="1720.1" y1="762.1" x2="1884.2" y2="754.6" stroke="#a8a8a8" stroke-width="1.8"/>
<line x1="1703.2" y1="648.4" x2="1732.4" y2="664.7" stroke="#8a9a9a" stroke-width="1.8"/>
<line x1="1703.2" y1="648.4" x2="1682.6" y2="670.7" stroke="#8a9a9a" stroke-width="1.8"/>
<line x1="1682.6" y1="670.7" x2="1702.4" y2="695.6" stroke="#8a9a9a" stroke-width="1.8"/>
<line x1="1732.4" y1="664.7" x2="1753.0" y2="644.1" stroke="#8a9a9a" stroke-width="1.8"/>
<line x1="1732.4" y1="664.7" x2="1750.4" y2="667.3" stroke="#8a9a9a" stroke-width="1.8"/>
<line x1="1732.4" y1="664.7" x2="1728.1" y2="681.0" stroke="#8a9a9a" stroke-width="1.8"/>
<line x1="1728.1" y1="681.0" x2="1728.1" y2="694.7" stroke="#8a9a9a" stroke-width="1.8"/>
<line x1="1728.1" y1="694.7" x2="1702.4" y2="695.6" stroke="#8a9a9a" stroke-width="1.8"/>
<line x1="1702.4" y1="695.6" x2="1714.4" y2="714.5" stroke="#8a9a9a" stroke-width="1.8"/>
<line x1="1703.2" y1="648.4" x2="1706.7" y2="630.4" stroke="#8a9a9a" stroke-width="1.8"/>
<line x1="1703.2" y1="648.4" x2="1692.9" y2="643.2" stroke="#8a9a9a" stroke-width="1.8"/>
<line x1="1682.6" y1="670.7" x2="1671.5" y2="659.5" stroke="#8a9a9a" stroke-width="1.8"/>
<line x1="1753.0" y1="644.1" x2="1755.6" y2="624.4" stroke="#8a9a9a" stroke-width="1.8"/>
<line x1="1753.0" y1="644.1" x2="1741.0" y2="643.2" stroke="#8a9a9a" stroke-width="1.8"/>
<line x1="1753.0" y1="644.1" x2="1771.0" y2="654.4" stroke="#8a9a9a" stroke-width="1.8"/>
<line x1="1750.4" y1="667.3" x2="1767.6" y2="680.1" stroke="#8a9a9a" stroke-width="1.8"/>
<line x1="1728.1" y1="694.7" x2="1747.9" y2="703.3" stroke="#8a9a9a" stroke-width="1.8"/>
<line x1="1728.1" y1="694.7" x2="1740.1" y2="696.4" stroke="#8a9a9a" stroke-width="1.8"/>
<line x1="1702.4" y1="695.6" x2="1716.1" y2="693.0" stroke="#8a9a9a" stroke-width="1.8"/>
<line x1="1702.4" y1="695.6" x2="1691.2" y2="706.7" stroke="#8a9a9a" stroke-width="1.8"/>
<line x1="1732.4" y1="664.7" x2="1721.3" y2="664.7" stroke="#8a9a9a" stroke-width="1.8"/>
<circle cx="1706.7" cy="630.4" r="3.6" fill="#f8d8dc" stroke="#d08890" stroke-width="1.3"/>
<circle cx="1692.9" cy="643.2" r="3.6" fill="#f8d8dc" stroke="#d08890" stroke-width="1.3"/>
<circle cx="1671.5" cy="659.5" r="3.6" fill="#f8d8dc" stroke="#d08890" stroke-width="1.3"/>
<circle cx="1755.6" cy="624.4" r="3.6" fill="#f8d8dc" stroke="#d08890" stroke-width="1.3"/>
<circle cx="1741" cy="643.2" r="3.6" fill="#f8d8dc" stroke="#d08890" stroke-width="1.3"/>
<circle cx="1771" cy="654.4" r="3.6" fill="#f8d8dc" stroke="#d08890" stroke-width="1.3"/>
<circle cx="1767.6" cy="680.1" r="3.6" fill="#f8d8dc" stroke="#d08890" stroke-width="1.3"/>
<circle cx="1747.9" cy="703.3" r="3.6" fill="#f8d8dc" stroke="#d08890" stroke-width="1.3"/>
<circle cx="1740.1" cy="696.4" r="3.6" fill="#f8d8dc" stroke="#d08890" stroke-width="1.3"/>
<circle cx="1716.1" cy="693" r="3.6" fill="#f8d8dc" stroke="#d08890" stroke-width="1.3"/>
<circle cx="1691.2" cy="706.7" r="3.6" fill="#f8d8dc" stroke="#d08890" stroke-width="1.3"/>
<circle cx="1721.3" cy="664.7" r="3.6" fill="#f8d8dc" stroke="#d08890" stroke-width="1.3"/>
<circle cx="1650.9" cy="616.6" r="3.6" fill="#f8d8dc" stroke="#d08890" stroke-width="1.3"/>
<circle cx="1813.9" cy="608.9" r="3.6" fill="#f8d8dc" stroke="#d08890" stroke-width="1.3"/>
<circle cx="1787.3" cy="586.6" r="3.6" fill="#f8d8dc" stroke="#d08890" stroke-width="1.3"/>
<circle cx="1623.4" cy="593.5" r="3.6" fill="#f8d8dc" stroke="#d08890" stroke-width="1.3"/>
<circle cx="1625" cy="594" r="3.6" fill="#f8d8dc" stroke="#d08890" stroke-width="1.3"/>
<circle cx="1617" cy="758" r="3.6" fill="#f8d8dc" stroke="#d08890" stroke-width="1.3"/>
<circle cx="1805" cy="773" r="3.6" fill="#f8d8dc" stroke="#d08890" stroke-width="1.3"/>
<circle cx="1781" cy="752" r="3.6" fill="#f8d8dc" stroke="#d08890" stroke-width="1.3"/>
<circle cx="1643" cy="780" r="3.6" fill="#f8d8dc" stroke="#d08890" stroke-width="1.3"/>
<circle cx="1708" cy="742" r="3.6" fill="#f8d8dc" stroke="#d08890" stroke-width="1.3"/>
<circle cx="1690" cy="735" r="3.6" fill="#f8d8dc" stroke="#d08890" stroke-width="1.3"/>
<circle cx="1735" cy="720" r="3.6" fill="#f8d8dc" stroke="#d08890" stroke-width="1.3"/>
<circle cx="1703.2" cy="648.4" r="7" fill="#3e0a14"/>
<circle cx="1682.6" cy="670.7" r="7" fill="#3e0a14"/>
<circle cx="1753" cy="644.1" r="7" fill="#3e0a14"/>
<circle cx="1750.4" cy="667.3" r="7" fill="#3e0a14"/>
<circle cx="1728.1" cy="681" r="7" fill="#3e0a14"/>
<circle cx="1728.1" cy="694.7" r="7" fill="#3e0a14"/>
<circle cx="1714.4" cy="714.5" r="7" fill="#3e0a14"/>
<circle cx="1732.4" cy="664.7" r="8" fill="#7f96d6"/>
<circle cx="1702.4" cy="695.6" r="8" fill="#7f96d6"/>
<circle cx="1657.2" cy="514" r="18" fill="url(#iG)"/>
<circle cx="1822.2" cy="506.1" r="18" fill="url(#iG)"/>
<circle cx="1560.5" cy="601.1" r="18" fill="url(#iG)"/>
<circle cx="1644" cy="585.2" r="18" fill="url(#iG)"/>
<circle cx="1725.4" cy="594.5" r="18" fill="url(#iG)"/>
<circle cx="1808.1" cy="578.6" r="18" fill="url(#iG)"/>
<circle cx="1889.4" cy="585.2" r="18" fill="url(#iG)"/>
<circle cx="1650.6" cy="678.9" r="18" fill="url(#iG)"/>
<circle cx="1816" cy="671.4" r="18" fill="url(#iG)"/>
<circle cx="1553.9" cy="764.7" r="18" fill="url(#iG)"/>
<circle cx="1635.7" cy="750.6" r="18" fill="url(#iG)"/>
<circle cx="1720.1" cy="758.1" r="18" fill="url(#iG)"/>
<circle cx="1802.8" cy="742.7" r="18" fill="url(#iG)"/>
<circle cx="1884.2" cy="750.6" r="18" fill="url(#iG)"/>
<circle cx="1645.3" cy="843" r="18" fill="url(#iG)"/>
<circle cx="1809" cy="835.9" r="18" fill="url(#iG)"/>
<line x1="2042.0" y1="537.5" x2="1988.0" y2="537.5" stroke="#e03232" stroke-width="6.2"/>
<polygon points="1962.8,537.5 1992.6,527.0 1990.0,537.5 1992.6,548.0" fill="#e8262b" stroke="none" stroke-width="1"/>
<line x1="2051.3" y1="548.0" x2="2051.3" y2="598.0" stroke="#5ab847" stroke-width="6.4"/>
<polygon points="2051.3,622.8 2040.0,595.5 2051.3,598.0 2062.6,595.5" fill="#4fb43e" stroke="none" stroke-width="1"/>
<circle cx="2053" cy="538" r="8" fill="#2a2a7a"/>
<text x="1934.5" y="553.6" font-size="44" font-family="'Liberation Sans', Arial, sans-serif" font-weight="bold" fill="#000" text-anchor="start">a</text>
<text x="2035.5" y="656.9" font-size="42" font-family="'Liberation Sans', Arial, sans-serif" font-weight="bold" fill="#000" text-anchor="start">b</text>
<text x="2041.0" y="549.6" font-size="44" font-family="'Liberation Sans', Arial, sans-serif" font-weight="bold" fill="#0c0c2a" text-anchor="start">c</text>
<circle cx="1959.8" cy="707.5" r="11" fill="#7a3848" stroke="#3a1a20" stroke-width="1.5"/>
<circle cx="1959.8" cy="751.5" r="11" fill="#f6c6cc" stroke="#704048" stroke-width="1.5"/>
<circle cx="1959.8" cy="790.2" r="11" fill="#96a8e0" stroke="#40486a" stroke-width="1.5"/>
<circle cx="1959.8" cy="835" r="11" fill="#3a0a12" stroke="#1a0408" stroke-width="1.5"/>
<text x="2034.0" y="712.8" font-size="34" font-family="'Liberation Sans', Arial, sans-serif" font-weight="normal" fill="#111" text-anchor="middle" stroke="#111" stroke-width="0.45">I</text>
<text x="2033.0" y="756.6" font-size="34" font-family="'Liberation Sans', Arial, sans-serif" font-weight="normal" fill="#111" text-anchor="middle" stroke="#111" stroke-width="0.45">H</text>
<text x="2033.5" y="799.4" font-size="34" font-family="'Liberation Sans', Arial, sans-serif" font-weight="normal" fill="#111" text-anchor="middle" stroke="#111" stroke-width="0.45">N</text>
<text x="2033.0" y="844.5" font-size="34" font-family="'Liberation Sans', Arial, sans-serif" font-weight="normal" fill="#111" text-anchor="middle" stroke="#111" stroke-width="0.45">C</text>
</svg>
</body></html>
